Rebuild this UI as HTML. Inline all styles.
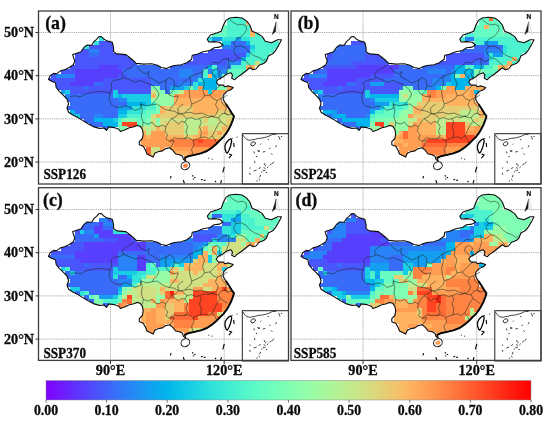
<!DOCTYPE html>
<html><head><meta charset="utf-8"><title>Figure</title>
<style>
html,body{margin:0;padding:0;background:#fff;}
svg{display:block}
text{font-family:"Liberation Serif","Times New Roman",serif;font-weight:bold;fill:#0a0a0a;stroke:#0a0a0a;stroke-width:.3px}
.ax{font-size:14.2px}
.pl{font-size:17.8px}
.cb{font-size:13.8px}
.n{font-family:"Liberation Sans",Arial,sans-serif;font-size:6.5px;font-weight:bold;stroke-width:.2px}
.grid{stroke:#8c8c8c;stroke-width:0.7;stroke-dasharray:1.3 0.9;fill:none}
.frame{fill:none;stroke:#3c3c3c;stroke-width:1.3}
.out{fill:none;stroke:#0c0c0c;stroke-width:1.1;stroke-linejoin:round}
.prov{fill:none;stroke:#16241c;stroke-width:0.55;stroke-linejoin:round;opacity:.95}
.isl{fill:none;stroke:#000;stroke-width:1.1}
</style></head><body>
<svg width="550" height="421" viewBox="0 0 550 421">
<defs>
<linearGradient id="rb" x1="0" x2="1" y1="0" y2="0"><stop offset="0.0000" stop-color="#8000ff"/><stop offset="0.0312" stop-color="#7019ff"/><stop offset="0.0625" stop-color="#6032fe"/><stop offset="0.0938" stop-color="#504afc"/><stop offset="0.1250" stop-color="#4062fa"/><stop offset="0.1562" stop-color="#3079f7"/><stop offset="0.1875" stop-color="#208ef4"/><stop offset="0.2188" stop-color="#10a2f0"/><stop offset="0.2500" stop-color="#00b5eb"/><stop offset="0.2812" stop-color="#10c6e6"/><stop offset="0.3125" stop-color="#20d5e1"/><stop offset="0.3438" stop-color="#30e1da"/><stop offset="0.3750" stop-color="#40ecd4"/><stop offset="0.4062" stop-color="#50f4cc"/><stop offset="0.4375" stop-color="#60fac5"/><stop offset="0.4688" stop-color="#70febc"/><stop offset="0.5000" stop-color="#80ffb4"/><stop offset="0.5312" stop-color="#90feab"/><stop offset="0.5625" stop-color="#a0faa1"/><stop offset="0.5938" stop-color="#b0f397"/><stop offset="0.6250" stop-color="#c0eb8d"/><stop offset="0.6562" stop-color="#d0e082"/><stop offset="0.6875" stop-color="#e0d377"/><stop offset="0.7188" stop-color="#f0c46c"/><stop offset="0.7500" stop-color="#ffb360"/><stop offset="0.7812" stop-color="#ffa055"/><stop offset="0.8125" stop-color="#ff8c49"/><stop offset="0.8438" stop-color="#ff763d"/><stop offset="0.8750" stop-color="#ff5f30"/><stop offset="0.9062" stop-color="#ff4724"/><stop offset="0.9375" stop-color="#ff2f18"/><stop offset="0.9688" stop-color="#ff160b"/><stop offset="1.0000" stop-color="#ff0000"/></linearGradient>
<clipPath id="cn"><polygon points="10.4,67.4 11.7,64.7 15.1,62.4 17.9,62.9 22.0,59.9 26.1,58.8 30.8,56.5 34.9,53.8 36.3,49.7 34.9,46.3 34.2,43.6 38.3,42.2 42.4,40.8 45.8,36.1 48.6,34.0 53.3,34.3 55.4,30.6 58.1,28.3 60.2,25.8 62.9,25.5 64.9,27.7 68.3,29.9 73.8,31.3 75.1,36.7 75.1,40.8 78.5,42.9 87.4,43.6 90.8,46.3 94.2,49.0 97.7,52.4 105.2,53.1 113.3,52.8 118.8,54.2 122.9,56.5 128.3,57.6 132.4,55.6 136.0,54.5 142.9,53.8 148.3,51.7 153.1,48.3 153.8,44.2 158.6,43.3 164.7,40.8 171.5,39.5 175.6,36.7 181.1,36.1 184.5,34.0 181.1,31.3 175.6,30.6 170.2,31.0 168.8,28.2 172.0,24.0 178.2,22.0 182.7,20.2 185.0,14.0 187.4,9.4 191.2,7.0 197.4,6.3 203.6,7.0 208.2,10.1 211.3,14.0 213.6,20.2 219.1,22.5 223.7,25.6 226.8,30.2 233.0,31.8 239.1,28.7 243.0,28.7 240.7,33.3 237.6,38.7 234.5,42.6 229.9,44.9 228.0,50.0 225.2,52.6 220.6,54.2 217.5,58.0 214.4,58.8 211.3,56.8 207.9,59.5 203.2,63.3 198.6,66.4 196.3,68.7 193.2,67.2 194.0,64.1 192.4,61.8 187.8,63.3 183.9,66.4 180.0,68.0 177.7,71.0 180.0,74.1 184.7,74.1 186.2,75.7 190.1,74.9 194.7,76.5 192.4,78.8 188.5,80.3 184.7,84.2 184.7,88.8 187.8,93.5 190.9,98.3 193.2,102.1 195.5,105.2 194.0,109.9 192.5,113.7 190.1,118.4 187.8,122.2 184.7,126.1 181.6,129.2 177.8,133.0 173.1,136.9 168.5,140.0 162.3,142.3 156.1,143.9 149.5,145.3 146.4,146.9 147.2,150.0 144.9,148.4 144.1,145.3 141.0,143.8 137.1,143.0 134.1,139.1 131.0,136.8 127.1,137.6 124.0,139.9 119.4,140.7 116.3,142.2 114.7,146.1 111.6,144.5 108.5,143.0 107.0,139.1 104.7,135.3 100.8,133.7 100.8,130.6 103.9,127.5 104.7,122.9 103.9,118.3 101.6,115.2 98.5,114.4 94.6,116.0 90.8,116.7 86.1,119.0 81.9,120.5 80.3,118.2 75.7,116.6 70.3,115.9 68.0,119.4 65.6,117.0 61.0,117.4 55.6,115.9 51.0,113.6 47.1,111.2 43.2,108.9 39.4,106.6 34.7,104.3 30.1,101.2 28.5,97.3 30.1,92.7 28.5,88.0 24.7,84.2 20.8,80.3 17.7,76.5 17.0,71.8 13.1,70.3 10.0,68.5"/><ellipse cx="146.9" cy="154.7" rx="2.6" ry="2.1" transform="rotate(-30 146.9 154.7)"/></clipPath>
<clipPath id="pc"><rect x="0" y="0" width="250" height="173"/></clipPath>
</defs>
<rect width="550" height="421" fill="#fff"/>
<g transform="translate(38.5,11)"><g clip-path="url(#pc)"><line class="grid" x1="72.0" x2="72.0" y1="0" y2="173"/><line class="grid" x1="185.7" x2="185.7" y1="0" y2="173"/><line class="grid" x1="0" x2="250" y1="151.1" y2="151.1"/><line class="grid" x1="0" x2="250" y1="107.9" y2="107.9"/><line class="grid" x1="0" x2="250" y1="64.7" y2="64.7"/><line class="grid" x1="0" x2="250" y1="21.5" y2="21.5"/><g clip-path="url(#cn)" shape-rendering="crispEdges"><rect x="188.06" y="5.54" width="23.99" height="4.37" fill="#4df3ce"/><rect x="188.06" y="9.61" width="19.25" height="4.37" fill="#4df3ce"/><rect x="207.01" y="9.61" width="5.04" height="4.37" fill="#ffb360"/><rect x="183.32" y="13.68" width="5.04" height="4.37" fill="#66fcc2"/><rect x="188.06" y="13.68" width="23.99" height="4.37" fill="#4df3ce"/><rect x="211.75" y="13.68" width="5.04" height="4.37" fill="#ffb360"/><rect x="183.32" y="17.75" width="5.04" height="4.37" fill="#66fcc2"/><rect x="188.06" y="17.75" width="23.99" height="4.37" fill="#4df3ce"/><rect x="211.75" y="17.75" width="5.04" height="4.37" fill="#ffb360"/><rect x="173.85" y="21.82" width="14.51" height="4.37" fill="#66fcc2"/><rect x="188.06" y="21.82" width="23.99" height="4.37" fill="#4df3ce"/><rect x="211.75" y="21.82" width="5.04" height="4.37" fill="#ffb360"/><rect x="216.49" y="21.82" width="5.04" height="4.37" fill="#4df3ce"/><rect x="60.15" y="25.90" width="5.04" height="4.37" fill="#32e3da"/><rect x="169.11" y="25.90" width="5.04" height="4.37" fill="#32e3da"/><rect x="173.85" y="25.90" width="9.78" height="4.37" fill="#149df1"/><rect x="183.32" y="25.90" width="14.51" height="4.37" fill="#32e3da"/><rect x="197.54" y="25.90" width="5.04" height="4.37" fill="#149df1"/><rect x="202.27" y="25.90" width="9.78" height="4.37" fill="#32e3da"/><rect x="211.75" y="25.90" width="14.51" height="4.37" fill="#4df3ce"/><rect x="55.41" y="29.97" width="5.04" height="4.37" fill="#32e3da"/><rect x="60.15" y="29.97" width="14.51" height="4.37" fill="#4856fb"/><rect x="183.32" y="29.97" width="9.78" height="4.37" fill="#18cde4"/><rect x="192.80" y="29.97" width="14.51" height="4.37" fill="#396bf9"/><rect x="207.01" y="29.97" width="5.04" height="4.37" fill="#00b5eb"/><rect x="211.75" y="29.97" width="28.72" height="4.37" fill="#4df3ce"/><rect x="45.94" y="34.04" width="5.04" height="4.37" fill="#32e3da"/><rect x="50.67" y="34.04" width="23.99" height="4.37" fill="#4856fb"/><rect x="183.32" y="34.04" width="9.78" height="4.37" fill="#2884f6"/><rect x="192.80" y="34.04" width="19.25" height="4.37" fill="#396bf9"/><rect x="211.75" y="34.04" width="5.04" height="4.37" fill="#18cde4"/><rect x="216.49" y="34.04" width="23.99" height="4.37" fill="#4df3ce"/><rect x="41.20" y="38.11" width="9.78" height="4.37" fill="#4856fb"/><rect x="50.67" y="38.11" width="9.78" height="4.37" fill="#2884f6"/><rect x="60.15" y="38.11" width="14.51" height="4.37" fill="#4856fb"/><rect x="169.11" y="38.11" width="23.99" height="4.37" fill="#4856fb"/><rect x="192.80" y="38.11" width="19.25" height="4.37" fill="#396bf9"/><rect x="211.75" y="38.11" width="5.04" height="4.37" fill="#32e3da"/><rect x="216.49" y="38.11" width="19.25" height="4.37" fill="#4df3ce"/><rect x="36.46" y="42.18" width="14.51" height="4.37" fill="#4856fb"/><rect x="50.67" y="42.18" width="9.78" height="4.37" fill="#396bf9"/><rect x="60.15" y="42.18" width="28.72" height="4.37" fill="#4856fb"/><rect x="88.57" y="42.18" width="5.04" height="4.37" fill="#99fca6"/><rect x="154.90" y="42.18" width="52.41" height="4.37" fill="#4856fb"/><rect x="207.01" y="42.18" width="5.04" height="4.37" fill="#18cde4"/><rect x="211.75" y="42.18" width="19.25" height="4.37" fill="#4df3ce"/><rect x="36.46" y="46.25" width="57.15" height="4.37" fill="#4856fb"/><rect x="93.31" y="46.25" width="5.04" height="4.37" fill="#99fca6"/><rect x="154.90" y="46.25" width="47.67" height="4.37" fill="#4856fb"/><rect x="202.27" y="46.25" width="5.04" height="4.37" fill="#00b5eb"/><rect x="207.01" y="46.25" width="23.99" height="4.37" fill="#4df3ce"/><rect x="36.46" y="50.32" width="61.89" height="4.37" fill="#4856fb"/><rect x="145.43" y="50.32" width="42.94" height="4.37" fill="#4856fb"/><rect x="188.06" y="50.32" width="14.51" height="4.37" fill="#2884f6"/><rect x="202.27" y="50.32" width="14.51" height="4.37" fill="#4df3ce"/><rect x="216.49" y="50.32" width="5.04" height="4.37" fill="#d0e082"/><rect x="221.22" y="50.32" width="5.04" height="4.37" fill="#4df3ce"/><rect x="31.72" y="54.39" width="28.72" height="4.37" fill="#4856fb"/><rect x="60.15" y="54.39" width="19.25" height="4.37" fill="#583efd"/><rect x="79.10" y="54.39" width="14.51" height="4.37" fill="#4856fb"/><rect x="93.31" y="54.39" width="28.72" height="4.37" fill="#396bf9"/><rect x="131.21" y="54.39" width="38.20" height="4.37" fill="#396bf9"/><rect x="169.11" y="54.39" width="5.04" height="4.37" fill="#00b5eb"/><rect x="173.85" y="54.39" width="5.04" height="4.37" fill="#4df3ce"/><rect x="178.59" y="54.39" width="14.51" height="4.37" fill="#396bf9"/><rect x="192.80" y="54.39" width="14.51" height="4.37" fill="#4df3ce"/><rect x="207.01" y="54.39" width="9.78" height="4.37" fill="#ffb360"/><rect x="22.25" y="58.46" width="14.51" height="4.37" fill="#4856fb"/><rect x="36.46" y="58.46" width="47.67" height="4.37" fill="#583efd"/><rect x="83.84" y="58.46" width="57.15" height="4.37" fill="#396bf9"/><rect x="140.69" y="58.46" width="14.51" height="4.37" fill="#2884f6"/><rect x="154.90" y="58.46" width="9.78" height="4.37" fill="#396bf9"/><rect x="164.38" y="58.46" width="5.04" height="4.37" fill="#4df3ce"/><rect x="169.11" y="58.46" width="5.04" height="4.37" fill="#2884f6"/><rect x="173.85" y="58.46" width="5.04" height="4.37" fill="#18cde4"/><rect x="178.59" y="58.46" width="9.78" height="4.37" fill="#2884f6"/><rect x="188.06" y="58.46" width="19.25" height="4.37" fill="#66fcc2"/><rect x="12.77" y="62.53" width="5.04" height="4.37" fill="#4856fb"/><rect x="17.51" y="62.53" width="19.25" height="4.37" fill="#2884f6"/><rect x="36.46" y="62.53" width="42.94" height="4.37" fill="#583efd"/><rect x="79.10" y="62.53" width="9.78" height="4.37" fill="#4856fb"/><rect x="88.57" y="62.53" width="52.41" height="4.37" fill="#396bf9"/><rect x="140.69" y="62.53" width="14.51" height="4.37" fill="#2884f6"/><rect x="154.90" y="62.53" width="5.04" height="4.37" fill="#396bf9"/><rect x="159.64" y="62.53" width="5.04" height="4.37" fill="#2884f6"/><rect x="164.38" y="62.53" width="5.04" height="4.37" fill="#4df3ce"/><rect x="169.11" y="62.53" width="5.04" height="4.37" fill="#ffb360"/><rect x="173.85" y="62.53" width="5.04" height="4.37" fill="#00b5eb"/><rect x="178.59" y="62.53" width="5.04" height="4.37" fill="#149df1"/><rect x="183.32" y="62.53" width="9.78" height="4.37" fill="#80ffb4"/><rect x="192.80" y="62.53" width="9.78" height="4.37" fill="#66fcc2"/><rect x="8.04" y="66.61" width="28.72" height="4.37" fill="#4856fb"/><rect x="36.46" y="66.61" width="28.72" height="4.37" fill="#583efd"/><rect x="64.89" y="66.61" width="47.67" height="4.37" fill="#4856fb"/><rect x="112.26" y="66.61" width="42.94" height="4.37" fill="#396bf9"/><rect x="154.90" y="66.61" width="5.04" height="4.37" fill="#2884f6"/><rect x="159.64" y="66.61" width="5.04" height="4.37" fill="#32e3da"/><rect x="164.38" y="66.61" width="14.51" height="4.37" fill="#00b5eb"/><rect x="17.51" y="70.68" width="14.51" height="4.37" fill="#4856fb"/><rect x="31.72" y="70.68" width="23.99" height="4.37" fill="#583efd"/><rect x="55.41" y="70.68" width="9.78" height="4.37" fill="#396bf9"/><rect x="64.89" y="70.68" width="47.67" height="4.37" fill="#4856fb"/><rect x="112.26" y="70.68" width="28.72" height="4.37" fill="#396bf9"/><rect x="140.69" y="70.68" width="14.51" height="4.37" fill="#2884f6"/><rect x="154.90" y="70.68" width="5.04" height="4.37" fill="#32e3da"/><rect x="159.64" y="70.68" width="19.25" height="4.37" fill="#00b5eb"/><rect x="17.51" y="74.75" width="28.72" height="4.37" fill="#4856fb"/><rect x="45.94" y="74.75" width="5.04" height="4.37" fill="#396bf9"/><rect x="50.67" y="74.75" width="61.89" height="4.37" fill="#4856fb"/><rect x="112.26" y="74.75" width="9.78" height="4.37" fill="#80ffb4"/><rect x="121.74" y="74.75" width="9.78" height="4.37" fill="#396bf9"/><rect x="131.21" y="74.75" width="14.51" height="4.37" fill="#149df1"/><rect x="145.43" y="74.75" width="5.04" height="4.37" fill="#18cde4"/><rect x="150.16" y="74.75" width="5.04" height="4.37" fill="#80ffb4"/><rect x="154.90" y="74.75" width="5.04" height="4.37" fill="#32e3da"/><rect x="159.64" y="74.75" width="5.04" height="4.37" fill="#ff9d53"/><rect x="164.38" y="74.75" width="14.51" height="4.37" fill="#00b5eb"/><rect x="178.59" y="74.75" width="9.78" height="4.37" fill="#80ffb4"/><rect x="188.06" y="74.75" width="5.04" height="4.37" fill="#ff9d53"/><rect x="22.25" y="78.82" width="5.04" height="4.37" fill="#149df1"/><rect x="26.99" y="78.82" width="5.04" height="4.37" fill="#18cde4"/><rect x="31.72" y="78.82" width="42.94" height="4.37" fill="#4856fb"/><rect x="74.36" y="78.82" width="5.04" height="4.37" fill="#18cde4"/><rect x="79.10" y="78.82" width="33.46" height="4.37" fill="#4856fb"/><rect x="112.26" y="78.82" width="5.04" height="4.37" fill="#d0e082"/><rect x="117.00" y="78.82" width="5.04" height="4.37" fill="#99fca6"/><rect x="121.74" y="78.82" width="5.04" height="4.37" fill="#80ffb4"/><rect x="126.47" y="78.82" width="5.04" height="4.37" fill="#396bf9"/><rect x="131.21" y="78.82" width="9.78" height="4.37" fill="#80ffb4"/><rect x="140.69" y="78.82" width="5.04" height="4.37" fill="#bced8f"/><rect x="145.43" y="78.82" width="23.99" height="4.37" fill="#ff9d53"/><rect x="169.11" y="78.82" width="5.04" height="4.37" fill="#18cde4"/><rect x="173.85" y="78.82" width="14.51" height="4.37" fill="#ff9d53"/><rect x="26.99" y="82.89" width="5.04" height="4.37" fill="#2884f6"/><rect x="31.72" y="82.89" width="42.94" height="4.37" fill="#396bf9"/><rect x="74.36" y="82.89" width="5.04" height="4.37" fill="#18cde4"/><rect x="79.10" y="82.89" width="5.04" height="4.37" fill="#00b5eb"/><rect x="83.84" y="82.89" width="28.72" height="4.37" fill="#18cde4"/><rect x="112.26" y="82.89" width="5.04" height="4.37" fill="#ffb360"/><rect x="117.00" y="82.89" width="19.25" height="4.37" fill="#99fca6"/><rect x="135.95" y="82.89" width="47.67" height="4.37" fill="#ff9d53"/><rect x="26.99" y="86.96" width="52.41" height="4.37" fill="#396bf9"/><rect x="79.10" y="86.96" width="9.78" height="4.37" fill="#2884f6"/><rect x="88.57" y="86.96" width="23.99" height="4.37" fill="#18cde4"/><rect x="112.26" y="86.96" width="23.99" height="4.37" fill="#99fca6"/><rect x="135.95" y="86.96" width="47.67" height="4.37" fill="#ffb360"/><rect x="31.72" y="91.03" width="57.15" height="4.37" fill="#396bf9"/><rect x="88.57" y="91.03" width="19.25" height="4.37" fill="#00b5eb"/><rect x="107.52" y="91.03" width="5.04" height="4.37" fill="#18cde4"/><rect x="112.26" y="91.03" width="5.04" height="4.37" fill="#4df3ce"/><rect x="117.00" y="91.03" width="19.25" height="4.37" fill="#99fca6"/><rect x="135.95" y="91.03" width="52.41" height="4.37" fill="#ffb360"/><rect x="26.99" y="95.10" width="52.41" height="4.37" fill="#396bf9"/><rect x="79.10" y="95.10" width="14.51" height="4.37" fill="#149df1"/><rect x="93.31" y="95.10" width="14.51" height="4.37" fill="#32e3da"/><rect x="107.52" y="95.10" width="9.78" height="4.37" fill="#4df3ce"/><rect x="117.00" y="95.10" width="5.04" height="4.37" fill="#80ffb4"/><rect x="121.74" y="95.10" width="5.04" height="4.37" fill="#ffb360"/><rect x="126.47" y="95.10" width="28.72" height="4.37" fill="#e6cd73"/><rect x="154.90" y="95.10" width="33.46" height="4.37" fill="#ffb360"/><rect x="31.72" y="99.17" width="5.04" height="4.37" fill="#00b5eb"/><rect x="36.46" y="99.17" width="42.94" height="4.37" fill="#396bf9"/><rect x="79.10" y="99.17" width="9.78" height="4.37" fill="#00b5eb"/><rect x="88.57" y="99.17" width="14.51" height="4.37" fill="#32e3da"/><rect x="102.79" y="99.17" width="5.04" height="4.37" fill="#4df3ce"/><rect x="107.52" y="99.17" width="9.78" height="4.37" fill="#66fcc2"/><rect x="117.00" y="99.17" width="5.04" height="4.37" fill="#80ffb4"/><rect x="121.74" y="99.17" width="5.04" height="4.37" fill="#ffb360"/><rect x="126.47" y="99.17" width="28.72" height="4.37" fill="#e6cd73"/><rect x="154.90" y="99.17" width="23.99" height="4.37" fill="#ffb360"/><rect x="178.59" y="99.17" width="14.51" height="4.37" fill="#e6cd73"/><rect x="36.46" y="103.24" width="5.04" height="4.37" fill="#18cde4"/><rect x="41.20" y="103.24" width="14.51" height="4.37" fill="#396bf9"/><rect x="55.41" y="103.24" width="9.78" height="4.37" fill="#2884f6"/><rect x="64.89" y="103.24" width="14.51" height="4.37" fill="#396bf9"/><rect x="79.10" y="103.24" width="9.78" height="4.37" fill="#18cde4"/><rect x="88.57" y="103.24" width="14.51" height="4.37" fill="#4df3ce"/><rect x="102.79" y="103.24" width="9.78" height="4.37" fill="#66fcc2"/><rect x="112.26" y="103.24" width="5.04" height="4.37" fill="#d0e082"/><rect x="117.00" y="103.24" width="5.04" height="4.37" fill="#ffb360"/><rect x="121.74" y="103.24" width="57.15" height="4.37" fill="#e6cd73"/><rect x="178.59" y="103.24" width="19.25" height="4.37" fill="#d0e082"/><rect x="45.94" y="107.32" width="9.78" height="4.37" fill="#396bf9"/><rect x="55.41" y="107.32" width="19.25" height="4.37" fill="#00b5eb"/><rect x="74.36" y="107.32" width="5.04" height="4.37" fill="#18cde4"/><rect x="79.10" y="107.32" width="5.04" height="4.37" fill="#4df3ce"/><rect x="83.84" y="107.32" width="14.51" height="4.37" fill="#80ffb4"/><rect x="98.05" y="107.32" width="9.78" height="4.37" fill="#66fcc2"/><rect x="107.52" y="107.32" width="5.04" height="4.37" fill="#80ffb4"/><rect x="112.26" y="107.32" width="5.04" height="4.37" fill="#d0e082"/><rect x="117.00" y="107.32" width="5.04" height="4.37" fill="#80ffb4"/><rect x="121.74" y="107.32" width="23.99" height="4.37" fill="#d0e082"/><rect x="145.43" y="107.32" width="19.25" height="4.37" fill="#bced8f"/><rect x="164.38" y="107.32" width="5.04" height="4.37" fill="#e6cd73"/><rect x="169.11" y="107.32" width="9.78" height="4.37" fill="#bced8f"/><rect x="178.59" y="107.32" width="9.78" height="4.37" fill="#d0e082"/><rect x="188.06" y="107.32" width="5.04" height="4.37" fill="#e6cd73"/><rect x="50.67" y="111.39" width="14.51" height="4.37" fill="#396bf9"/><rect x="64.89" y="111.39" width="14.51" height="4.37" fill="#00b5eb"/><rect x="79.10" y="111.39" width="5.04" height="4.37" fill="#66fcc2"/><rect x="83.84" y="111.39" width="14.51" height="4.37" fill="#ff4422"/><rect x="98.05" y="111.39" width="5.04" height="4.37" fill="#66fcc2"/><rect x="102.79" y="111.39" width="9.78" height="4.37" fill="#80ffb4"/><rect x="112.26" y="111.39" width="5.04" height="4.37" fill="#d0e082"/><rect x="117.00" y="111.39" width="5.04" height="4.37" fill="#99fca6"/><rect x="121.74" y="111.39" width="5.04" height="4.37" fill="#d0e082"/><rect x="126.47" y="111.39" width="19.25" height="4.37" fill="#e6cd73"/><rect x="145.43" y="111.39" width="19.25" height="4.37" fill="#bced8f"/><rect x="164.38" y="111.39" width="5.04" height="4.37" fill="#d0e082"/><rect x="169.11" y="111.39" width="9.78" height="4.37" fill="#bced8f"/><rect x="178.59" y="111.39" width="9.78" height="4.37" fill="#d0e082"/><rect x="188.06" y="111.39" width="5.04" height="4.37" fill="#e6cd73"/><rect x="64.89" y="115.46" width="5.04" height="4.37" fill="#396bf9"/><rect x="79.10" y="115.46" width="9.78" height="4.37" fill="#80ffb4"/><rect x="102.79" y="115.46" width="5.04" height="4.37" fill="#d0e082"/><rect x="107.52" y="115.46" width="5.04" height="4.37" fill="#bced8f"/><rect x="112.26" y="115.46" width="5.04" height="4.37" fill="#d0e082"/><rect x="117.00" y="115.46" width="5.04" height="4.37" fill="#ffb360"/><rect x="121.74" y="115.46" width="23.99" height="4.37" fill="#e6cd73"/><rect x="145.43" y="115.46" width="14.51" height="4.37" fill="#bced8f"/><rect x="159.64" y="115.46" width="5.04" height="4.37" fill="#e6cd73"/><rect x="164.38" y="115.46" width="5.04" height="4.37" fill="#ffb360"/><rect x="169.11" y="115.46" width="14.51" height="4.37" fill="#d0e082"/><rect x="183.32" y="115.46" width="5.04" height="4.37" fill="#ffb360"/><rect x="188.06" y="115.46" width="5.04" height="4.37" fill="#e6cd73"/><rect x="102.79" y="119.53" width="5.04" height="4.37" fill="#ffb360"/><rect x="107.52" y="119.53" width="5.04" height="4.37" fill="#bced8f"/><rect x="112.26" y="119.53" width="14.51" height="4.37" fill="#ff9d53"/><rect x="126.47" y="119.53" width="19.25" height="4.37" fill="#e6cd73"/><rect x="145.43" y="119.53" width="14.51" height="4.37" fill="#bced8f"/><rect x="159.64" y="119.53" width="5.04" height="4.37" fill="#ffb360"/><rect x="164.38" y="119.53" width="5.04" height="4.37" fill="#ff9d53"/><rect x="169.11" y="119.53" width="9.78" height="4.37" fill="#e6cd73"/><rect x="178.59" y="119.53" width="5.04" height="4.37" fill="#ff9d53"/><rect x="183.32" y="119.53" width="5.04" height="4.37" fill="#e6cd73"/><rect x="102.79" y="123.60" width="5.04" height="4.37" fill="#ff9d53"/><rect x="107.52" y="123.60" width="5.04" height="4.37" fill="#ffb360"/><rect x="112.26" y="123.60" width="14.51" height="4.37" fill="#ff9d53"/><rect x="126.47" y="123.60" width="19.25" height="4.37" fill="#ffb360"/><rect x="145.43" y="123.60" width="9.78" height="4.37" fill="#e6cd73"/><rect x="154.90" y="123.60" width="14.51" height="4.37" fill="#ffb360"/><rect x="169.11" y="123.60" width="14.51" height="4.37" fill="#e6cd73"/><rect x="102.79" y="127.67" width="28.72" height="4.37" fill="#ff9d53"/><rect x="131.21" y="127.67" width="23.99" height="4.37" fill="#ff8444"/><rect x="154.90" y="127.67" width="5.04" height="4.37" fill="#ff6b37"/><rect x="159.64" y="127.67" width="5.04" height="4.37" fill="#ff4422"/><rect x="164.38" y="127.67" width="14.51" height="4.37" fill="#ff6b37"/><rect x="178.59" y="127.67" width="5.04" height="4.37" fill="#ff8444"/><rect x="102.79" y="131.74" width="33.46" height="4.37" fill="#ff9d53"/><rect x="135.95" y="131.74" width="19.25" height="4.37" fill="#ff8444"/><rect x="154.90" y="131.74" width="23.99" height="4.37" fill="#ff6b37"/><rect x="107.52" y="135.81" width="5.04" height="4.37" fill="#ff6b37"/><rect x="112.26" y="135.81" width="9.78" height="4.37" fill="#d0e082"/><rect x="121.74" y="135.81" width="5.04" height="4.37" fill="#ff9d53"/><rect x="131.21" y="135.81" width="42.94" height="4.37" fill="#ff9d53"/><rect x="107.52" y="139.88" width="5.04" height="4.37" fill="#ff6b37"/><rect x="112.26" y="139.88" width="5.04" height="4.37" fill="#d0e082"/><rect x="135.95" y="139.88" width="14.51" height="4.37" fill="#ffb360"/><rect x="150.16" y="139.88" width="14.51" height="4.37" fill="#ff9d53"/><rect x="112.26" y="143.95" width="5.04" height="4.37" fill="#ff9d53"/><rect x="145.43" y="143.95" width="5.04" height="4.37" fill="#ffb360"/><rect x="135.95" y="148.03" width="28.72" height="4.37" fill="#ff8444"/><rect x="135.95" y="152.10" width="28.72" height="4.37" fill="#ff8444"/><rect x="135.95" y="156.17" width="28.72" height="4.37" fill="#ff8444"/><rect x="135.95" y="160.24" width="28.72" height="4.37" fill="#ff8444"/></g><g><polyline class="prov" points="31.5,85.7 36.0,84.8 42.4,85.7 47.0,83.0 54.2,81.2 61.5,80.3 67.9,81.2 71.5,82.1"/><polyline class="prov" points="71.5,82.1 73.3,76.6 72.4,72.1 75.1,69.4 81.5,68.5 85.1,66.6"/><polyline class="prov" points="85.1,66.6 83.3,63.0 87.0,59.4 92.4,56.6 96.1,53.5"/><polyline class="prov" points="71.5,82.1 70.6,87.5 72.4,93.0 76.0,95.7 81.5,96.6 87.0,94.8 92.4,96.6 96.0,99.4 102.0,97.5"/><polyline class="prov" points="85.1,66.6 90.6,68.5 97.0,71.2 102.4,69.4 107.9,72.1 113.3,73.9 117.9,78.5 120.6,83.0 118.8,87.5 115.1,91.2 113.3,93.9"/><polyline class="prov" points="113.3,93.9 107.9,94.8 102.4,93.0 102.0,97.5"/><polyline class="prov" points="113.3,93.9 118.8,93.0 122.4,95.7 127.0,98.5 130.6,99.4"/><polyline class="prov" points="98.8,55.7 102.4,60.3 107.9,63.0 110.6,60.3 109.7,65.7 115.1,68.5 120.6,72.1 125.1,70.3 127.9,68.5"/><polyline class="prov" points="127.9,68.5 131.5,66.6 135.1,69.4 136.0,74.8 134.2,80.3 130.6,83.9 127.9,80.3 127.0,73.9 127.9,68.5"/><polyline class="prov" points="130.6,83.9 135.1,85.7 139.7,84.8 137.9,90.3 134.2,94.8 130.6,99.4"/><polyline class="prov" points="136.0,74.8 140.6,75.7 144.2,72.1 148.8,68.5 151.5,65.7"/><polyline class="prov" points="151.5,65.7 156.0,63.9 161.5,62.1 164.2,60.3 167.9,56.6"/><polyline class="prov" points="151.5,65.7 152.4,73.0 150.6,80.3 151.5,87.5 153.3,93.0"/><polyline class="prov" points="164.2,60.3 163.3,66.6 166.0,72.1 164.2,78.5 166.0,84.8 163.3,88.5 157.9,91.2 153.3,93.0"/><polyline class="prov" points="153.3,93.0 152.4,96.6 148.8,99.4 146.0,102.1"/><polyline class="prov" points="130.6,99.4 136.0,100.3 140.6,103.0 146.0,102.1"/><polyline class="prov" points="167.9,56.6 171.5,54.8 175.1,51.2 180.6,52.1 184.2,48.5 189.7,47.5 193.5,51.0 197.5,49.0 199.7,46.5"/><polyline class="prov" points="189.7,47.5 190.5,55.0 188.0,62.5"/><polyline class="prov" points="174.5,59.0 178.5,57.5 181.5,60.0 180.5,64.0 182.5,68.0 179.0,69.0 176.5,65.0 173.5,63.0 174.5,59.0"/><polyline class="prov" points="166.0,84.8 171.5,83.9 175.1,80.3 178.8,76.6 182.4,73.9"/><polyline class="prov" points="171.5,83.9 174.2,87.5 178.8,89.4 182.4,87.5 186.0,85.7 189.0,84.2"/><polyline class="prov" points="178.8,89.4 177.0,93.9 179.7,98.5 177.9,103.0 175.1,105.7"/><polyline class="prov" points="146.0,102.1 151.5,101.2 157.0,103.0 163.3,102.1 169.7,104.8 175.1,105.7"/><polyline class="prov" points="182.4,87.5 184.2,93.0 187.9,96.6 186.0,102.1 189.2,104.0"/><polyline class="prov" points="191.2,8.6 195.1,11.7 199.7,14.0 203.6,13.2 207.5,14.8 208.2,18.6 205.9,22.5 202.8,25.6 198.2,27.9 195.1,31.8"/><polyline class="prov" points="195.1,31.8 197.4,35.6 195.1,39.5 196.6,43.4 199.7,46.5"/><polyline class="prov" points="197.4,35.6 202.8,34.9 207.5,37.2 211.3,41.8 216.0,44.9 220.6,46.5 225.2,49.5 227.8,48.0"/><polyline class="prov" points="199.7,46.5 204.4,48.0 208.2,51.1 211.3,54.2 214.4,57.5"/><polyline class="prov" points="102.0,91.3 103.8,98.5 102.9,105.8 104.7,111.3 104.1,116.5"/><polyline class="prov" points="104.7,111.3 109.2,113.1 113.8,111.3 116.5,114.9 120.1,115.8 123.8,114.0 127.4,115.8"/><polyline class="prov" points="127.4,115.8 130.1,111.3 132.9,107.6 137.4,105.8 140.1,102.2 139.2,97.6 142.0,94.9 144.7,93.1"/><polyline class="prov" points="140.1,102.2 144.7,104.0 148.3,107.6 146.5,111.3 142.9,110.4 140.1,113.1 136.5,110.0 132.9,107.6"/><polyline class="prov" points="127.4,115.8 126.5,120.4 129.2,124.0 127.4,127.6 131.0,130.4 135.6,129.5 133.7,134.0 131.5,137.0"/><polyline class="prov" points="146.5,111.3 149.2,115.8 147.4,120.4 149.2,124.9 145.6,127.6"/><polyline class="prov" points="131.0,130.4 135.6,126.7 140.1,127.6 145.6,127.6"/><polyline class="prov" points="145.6,127.6 150.1,126.7 154.7,129.5 159.2,127.6 162.0,126.7"/><polyline class="prov" points="154.7,129.5 155.6,134.0 152.9,138.5 154.7,143.5"/><polyline class="prov" points="162.0,126.7 162.9,121.3 161.0,115.8 162.9,111.3 161.0,107.6"/><polyline class="prov" points="148.3,107.6 152.9,106.7 157.4,108.5 161.0,107.6"/><polyline class="prov" points="161.0,107.6 165.6,105.8 170.1,106.7 173.8,104.9 175.1,105.7"/><polyline class="prov" points="162.0,126.7 166.5,125.8 170.1,127.6 173.8,124.9"/><polyline class="prov" points="173.8,124.9 176.5,119.5 179.2,114.0 182.0,110.4 180.1,106.7"/><polyline class="prov" points="173.8,124.9 176.5,128.5 178.3,132.5"/><polyline class="prov" points="182.0,110.4 185.6,113.1 189.0,115.5"/><polyline class="prov" points="173.8,104.9 177.4,106.7 180.1,106.7"/><polyline class="prov" points="180.1,106.7 182.9,103.1 186.5,102.2 189.2,104.0 193.0,103.0"/><polygon class="out" points="10.4,67.4 11.7,64.7 15.1,62.4 17.9,62.9 22.0,59.9 26.1,58.8 30.8,56.5 34.9,53.8 36.3,49.7 34.9,46.3 34.2,43.6 38.3,42.2 42.4,40.8 45.8,36.1 48.6,34.0 53.3,34.3 55.4,30.6 58.1,28.3 60.2,25.8 62.9,25.5 64.9,27.7 68.3,29.9 73.8,31.3 75.1,36.7 75.1,40.8 78.5,42.9 87.4,43.6 90.8,46.3 94.2,49.0 97.7,52.4 105.2,53.1 113.3,52.8 118.8,54.2 122.9,56.5 128.3,57.6 132.4,55.6 136.0,54.5 142.9,53.8 148.3,51.7 153.1,48.3 153.8,44.2 158.6,43.3 164.7,40.8 171.5,39.5 175.6,36.7 181.1,36.1 184.5,34.0 181.1,31.3 175.6,30.6 170.2,31.0 168.8,28.2 172.0,24.0 178.2,22.0 182.7,20.2 185.0,14.0 187.4,9.4 191.2,7.0 197.4,6.3 203.6,7.0 208.2,10.1 211.3,14.0 213.6,20.2 219.1,22.5 223.7,25.6 226.8,30.2 233.0,31.8 239.1,28.7 243.0,28.7 240.7,33.3 237.6,38.7 234.5,42.6 229.9,44.9 228.0,50.0 225.2,52.6 220.6,54.2 217.5,58.0 214.4,58.8 211.3,56.8 207.9,59.5 203.2,63.3 198.6,66.4 196.3,68.7 193.2,67.2 194.0,64.1 192.4,61.8 187.8,63.3 183.9,66.4 180.0,68.0 177.7,71.0 180.0,74.1 184.7,74.1 186.2,75.7 190.1,74.9 194.7,76.5 192.4,78.8 188.5,80.3 184.7,84.2 184.7,88.8 187.8,93.5 190.9,98.3 193.2,102.1 195.5,105.2 194.0,109.9 192.5,113.7 190.1,118.4 187.8,122.2 184.7,126.1 181.6,129.2 177.8,133.0 173.1,136.9 168.5,140.0 162.3,142.3 156.1,143.9 149.5,145.3 146.4,146.9 147.2,150.0 144.9,148.4 144.1,145.3 141.0,143.8 137.1,143.0 134.1,139.1 131.0,136.8 127.1,137.6 124.0,139.9 119.4,140.7 116.3,142.2 114.7,146.1 111.6,144.5 108.5,143.0 107.0,139.1 104.7,135.3 100.8,133.7 100.8,130.6 103.9,127.5 104.7,122.9 103.9,118.3 101.6,115.2 98.5,114.4 94.6,116.0 90.8,116.7 86.1,119.0 81.9,120.5 80.3,118.2 75.7,116.6 70.3,115.9 68.0,119.4 65.6,117.0 61.0,117.4 55.6,115.9 51.0,113.6 47.1,111.2 43.2,108.9 39.4,106.6 34.7,104.3 30.1,101.2 28.5,97.3 30.1,92.7 28.5,88.0 24.7,84.2 20.8,80.3 17.7,76.5 17.0,71.8 13.1,70.3 10.0,68.5"/><ellipse class="out" style="stroke-width:1" cx="146.9" cy="154.7" rx="4.5" ry="3.8" transform="rotate(-30 146.9 154.7)"/><polygon points="192.5,127.9 193.2,130.0 192.1,135.0 190.4,139.5 188.8,142.2 187.7,141.3 186.5,137.8 186.5,134.5 187.9,131.5 190.5,128.8" fill="none" stroke="#000" stroke-width="1.25" stroke-linejoin="round"/><polyline points="187.8,93.5 190.9,98.3 193.2,102.1 195.5,105.2 194.0,109.9 192.5,113.7 190.1,118.4 187.8,122.2 184.7,126.1 181.6,129.2 177.8,133.0 173.1,136.9 168.5,140.0 162.3,142.3 156.1,143.9 149.5,145.3 146.4,146.9" fill="none" stroke="#0a0a0a" stroke-width="1.9" stroke-linejoin="round" stroke-linecap="round"/><polyline class="isl" points="195.2,131.9 195.6,136.0"/><polyline class="isl" points="190.6,142.9 193.1,144.0 190.4,147.1"/><polyline class="isl" points="198.3,125.7 198.8,126.4"/><polyline class="isl" points="193.5,127.0 193.9,127.6"/><polyline class="isl" points="170.1,146.8 170.7,147.4"/><polyline class="isl" points="173.3,147.8 174.0,148.4"/><polyline class="isl" points="185.8,155.8 184.3,161.4"/><polyline class="isl" points="183.0,169.1 182.1,172.5"/><polyline class="isl" points="153.7,164.5 154.9,165.3"/><polyline class="isl" points="155.7,166.8 157.0,166.2"/><polyline class="isl" points="154.5,167.6 155.1,168.4"/><polyline class="isl" points="162.5,169.0 164.1,168.2"/><polyline class="isl" points="165.1,169.6 167.0,169.0"/><polyline class="isl" points="144.8,169.1 145.9,172.5"/><polyline class="isl" points="176.5,170.0 177.5,171.0"/><polyline class="isl" points="132.5,165.0 132.0,167.5"/></g></g><rect x="203.8" y="122.7" width="46.2" height="50.3" fill="#fff" stroke="#222" stroke-width="1"/><polyline points="204.3,123.8 206.0,126.5 207.7,128.0 209.8,129.0 211.8,129.3 214.3,128.6 216.7,128.4 218.8,127.6 220.8,127.3 223.3,127.1 225.6,126.6 228.1,126.0 230.5,125.2 232.7,124.0 234.6,123.3 238.1,122.9" fill="none" stroke="#151515" stroke-width="0.8"/><polyline points="239.9,125.0 240.9,126.4 241.4,128.6" fill="none" stroke="#151515" stroke-width="0.8"/><polyline points="238.1,134.2 237.1,136.2" fill="none" stroke="#151515" stroke-width="0.8"/><polyline points="235.3,150.7 233.9,152.8" fill="none" stroke="#151515" stroke-width="0.8"/><polyline points="215.3,140.4 216.0,142.4" fill="none" stroke="#151515" stroke-width="0.8"/><polyline points="216.0,150.0 216.4,152.1" fill="none" stroke="#151515" stroke-width="0.8"/><polyline points="211.2,161.8 211.8,163.8" fill="none" stroke="#151515" stroke-width="0.8"/><polyline points="220.1,168.0 221.5,169.3" fill="none" stroke="#151515" stroke-width="0.8"/><polyline points="222.2,163.8 221.1,166.4" fill="none" stroke="#151515" stroke-width="0.8"/><polyline points="218.8,139.4 221.3,140.6" fill="none" stroke="#151515" stroke-width="0.8"/><polyline points="219.5,141.0 221.0,139.2" fill="none" stroke="#151515" stroke-width="0.8"/><polyline points="224.3,141.0 226.8,140.5" fill="none" stroke="#151515" stroke-width="0.8"/><polyline points="232.5,142.4 233.9,143.8" fill="none" stroke="#151515" stroke-width="0.8"/><polyline points="221.9,133.6 222.7,132.6" fill="none" stroke="#151515" stroke-width="0.8"/><polyline points="215.3,160.1 218.1,159.0" fill="none" stroke="#151515" stroke-width="0.8"/><polyline points="220.1,157.6 222.2,156.5" fill="none" stroke="#151515" stroke-width="0.8"/><polyline points="224.3,159.0 225.6,159.7 227.0,159.0" fill="none" stroke="#151515" stroke-width="0.8"/><polyline points="228.4,156.9 229.8,155.6" fill="none" stroke="#151515" stroke-width="0.8"/><polyline points="231.2,154.2 233.2,152.8" fill="none" stroke="#151515" stroke-width="0.8"/><polyline points="225.6,152.1 226.3,154.2" fill="none" stroke="#151515" stroke-width="0.8"/><polyline points="223.6,160.4 223.0,161.6" fill="none" stroke="#151515" stroke-width="0.8"/><polyline points="225.1,156.6 226.9,157.4" fill="none" stroke="#151515" stroke-width="0.8"/><polyline points="226.5,155.2 227.7,154.2" fill="none" stroke="#151515" stroke-width="0.8"/><ellipse cx="214.6" cy="132.8" rx="2.5" ry="1.8" fill="#fff" stroke="#111" stroke-width="0.8" transform="rotate(-30 214.6 132.8)"/><rect x="229.2" y="128.2" width="1.2" height="0.9" fill="#222"/><rect x="235.5" y="123.1" width="1.2" height="0.9" fill="#222"/><rect x="242.4" y="125.0" width="1.2" height="0.9" fill="#222"/><rect x="230.7" y="136.8" width="1.2" height="0.9" fill="#222"/><rect x="217.4" y="145.1" width="1.2" height="0.9" fill="#222"/><rect x="210.9" y="156.6" width="1.2" height="0.9" fill="#222"/><rect x="227.4" y="161.1" width="1.2" height="0.9" fill="#222"/><rect x="217.9" y="169.6" width="1.2" height="0.9" fill="#222"/><text class="n" x="237.9" y="7.6" text-anchor="middle">N</text><polygon points="237.7,10.9 233.9,23.4 237.4,20.1" fill="#111" stroke="#111" stroke-width="0.5"/><polygon points="237.7,10.9 241.2,22.9 237.4,20.1" fill="#fff" stroke="#999" stroke-width="0.4"/><rect class="frame" x="0" y="0" width="250" height="173"/><line x1="-3" x2="0" y1="151.1" y2="151.1" stroke="#333" stroke-width="1"/><text class="ax" x="-4.4" y="155.8" text-anchor="end">20°N</text><line x1="-3" x2="0" y1="107.9" y2="107.9" stroke="#333" stroke-width="1"/><text class="ax" x="-4.4" y="112.6" text-anchor="end">30°N</text><line x1="-3" x2="0" y1="64.7" y2="64.7" stroke="#333" stroke-width="1"/><text class="ax" x="-4.4" y="69.4" text-anchor="end">40°N</text><line x1="-3" x2="0" y1="21.5" y2="21.5" stroke="#333" stroke-width="1"/><text class="ax" x="-4.4" y="26.2" text-anchor="end">50°N</text><text class="pl" x="6.7" y="18.3">(a)</text><text class="ax" x="4.9" y="168.3" textLength="42.6" lengthAdjust="spacingAndGlyphs">SSP126</text></g>
<g transform="translate(291,11)"><g clip-path="url(#pc)"><line class="grid" x1="72.0" x2="72.0" y1="0" y2="173"/><line class="grid" x1="185.7" x2="185.7" y1="0" y2="173"/><line class="grid" x1="0" x2="250" y1="151.1" y2="151.1"/><line class="grid" x1="0" x2="250" y1="107.9" y2="107.9"/><line class="grid" x1="0" x2="250" y1="64.7" y2="64.7"/><line class="grid" x1="0" x2="250" y1="21.5" y2="21.5"/><g clip-path="url(#cn)" shape-rendering="crispEdges"><rect x="188.06" y="5.54" width="9.78" height="4.37" fill="#66fcc2"/><rect x="197.54" y="5.54" width="5.04" height="4.37" fill="#ff6b37"/><rect x="202.27" y="5.54" width="9.78" height="4.37" fill="#66fcc2"/><rect x="188.06" y="9.61" width="23.99" height="4.37" fill="#66fcc2"/><rect x="183.32" y="13.68" width="9.78" height="4.37" fill="#66fcc2"/><rect x="192.80" y="13.68" width="5.04" height="4.37" fill="#ffb360"/><rect x="197.54" y="13.68" width="14.51" height="4.37" fill="#66fcc2"/><rect x="183.32" y="17.75" width="28.72" height="4.37" fill="#66fcc2"/><rect x="173.85" y="21.82" width="9.78" height="4.37" fill="#4df3ce"/><rect x="183.32" y="21.82" width="38.20" height="4.37" fill="#66fcc2"/><rect x="169.11" y="25.90" width="5.04" height="4.37" fill="#4df3ce"/><rect x="173.85" y="25.90" width="9.78" height="4.37" fill="#2884f6"/><rect x="183.32" y="25.90" width="42.94" height="4.37" fill="#4df3ce"/><rect x="60.15" y="29.97" width="14.51" height="4.37" fill="#4856fb"/><rect x="183.32" y="29.97" width="9.78" height="4.37" fill="#4df3ce"/><rect x="192.80" y="29.97" width="14.51" height="4.37" fill="#149df1"/><rect x="207.01" y="29.97" width="33.46" height="4.37" fill="#4df3ce"/><rect x="45.94" y="34.04" width="28.72" height="4.37" fill="#396bf9"/><rect x="183.32" y="34.04" width="28.72" height="4.37" fill="#396bf9"/><rect x="211.75" y="34.04" width="5.04" height="4.37" fill="#32e3da"/><rect x="216.49" y="34.04" width="23.99" height="4.37" fill="#4df3ce"/><rect x="41.20" y="38.11" width="33.46" height="4.37" fill="#396bf9"/><rect x="169.11" y="38.11" width="23.99" height="4.37" fill="#396bf9"/><rect x="192.80" y="38.11" width="19.25" height="4.37" fill="#2884f6"/><rect x="211.75" y="38.11" width="5.04" height="4.37" fill="#32e3da"/><rect x="216.49" y="38.11" width="19.25" height="4.37" fill="#4df3ce"/><rect x="36.46" y="42.18" width="5.04" height="4.37" fill="#4856fb"/><rect x="41.20" y="42.18" width="33.46" height="4.37" fill="#396bf9"/><rect x="74.36" y="42.18" width="14.51" height="4.37" fill="#4856fb"/><rect x="154.90" y="42.18" width="38.20" height="4.37" fill="#4856fb"/><rect x="192.80" y="42.18" width="5.04" height="4.37" fill="#2884f6"/><rect x="197.54" y="42.18" width="5.04" height="4.37" fill="#32e3da"/><rect x="202.27" y="42.18" width="9.78" height="4.37" fill="#149df1"/><rect x="211.75" y="42.18" width="19.25" height="4.37" fill="#4df3ce"/><rect x="36.46" y="46.25" width="5.04" height="4.37" fill="#4856fb"/><rect x="41.20" y="46.25" width="33.46" height="4.37" fill="#396bf9"/><rect x="74.36" y="46.25" width="19.25" height="4.37" fill="#4856fb"/><rect x="154.90" y="46.25" width="38.20" height="4.37" fill="#4856fb"/><rect x="192.80" y="46.25" width="5.04" height="4.37" fill="#396bf9"/><rect x="197.54" y="46.25" width="5.04" height="4.37" fill="#32e3da"/><rect x="202.27" y="46.25" width="19.25" height="4.37" fill="#4df3ce"/><rect x="221.22" y="46.25" width="5.04" height="4.37" fill="#ffb360"/><rect x="225.96" y="46.25" width="5.04" height="4.37" fill="#4df3ce"/><rect x="36.46" y="50.32" width="23.99" height="4.37" fill="#396bf9"/><rect x="60.15" y="50.32" width="38.20" height="4.37" fill="#4856fb"/><rect x="145.43" y="50.32" width="38.20" height="4.37" fill="#4856fb"/><rect x="183.32" y="50.32" width="14.51" height="4.37" fill="#396bf9"/><rect x="197.54" y="50.32" width="19.25" height="4.37" fill="#4df3ce"/><rect x="216.49" y="50.32" width="5.04" height="4.37" fill="#ffb360"/><rect x="221.22" y="50.32" width="5.04" height="4.37" fill="#4df3ce"/><rect x="31.72" y="54.39" width="33.46" height="4.37" fill="#4856fb"/><rect x="64.89" y="54.39" width="42.94" height="4.37" fill="#583efd"/><rect x="107.52" y="54.39" width="14.51" height="4.37" fill="#396bf9"/><rect x="131.21" y="54.39" width="33.46" height="4.37" fill="#396bf9"/><rect x="164.38" y="54.39" width="9.78" height="4.37" fill="#00b5eb"/><rect x="173.85" y="54.39" width="9.78" height="4.37" fill="#4df3ce"/><rect x="183.32" y="54.39" width="9.78" height="4.37" fill="#00b5eb"/><rect x="192.80" y="54.39" width="9.78" height="4.37" fill="#4df3ce"/><rect x="202.27" y="54.39" width="5.04" height="4.37" fill="#80ffb4"/><rect x="207.01" y="54.39" width="9.78" height="4.37" fill="#ffb360"/><rect x="22.25" y="58.46" width="5.04" height="4.37" fill="#4856fb"/><rect x="26.99" y="58.46" width="9.78" height="4.37" fill="#396bf9"/><rect x="36.46" y="58.46" width="66.62" height="4.37" fill="#583efd"/><rect x="102.79" y="58.46" width="33.46" height="4.37" fill="#396bf9"/><rect x="135.95" y="58.46" width="19.25" height="4.37" fill="#2884f6"/><rect x="154.90" y="58.46" width="5.04" height="4.37" fill="#396bf9"/><rect x="159.64" y="58.46" width="5.04" height="4.37" fill="#2884f6"/><rect x="164.38" y="58.46" width="19.25" height="4.37" fill="#00b5eb"/><rect x="183.32" y="58.46" width="9.78" height="4.37" fill="#80ffb4"/><rect x="192.80" y="58.46" width="14.51" height="4.37" fill="#66fcc2"/><rect x="12.77" y="62.53" width="5.04" height="4.37" fill="#4856fb"/><rect x="17.51" y="62.53" width="19.25" height="4.37" fill="#2884f6"/><rect x="36.46" y="62.53" width="42.94" height="4.37" fill="#583efd"/><rect x="79.10" y="62.53" width="23.99" height="4.37" fill="#4856fb"/><rect x="102.79" y="62.53" width="52.41" height="4.37" fill="#396bf9"/><rect x="154.90" y="62.53" width="5.04" height="4.37" fill="#2884f6"/><rect x="159.64" y="62.53" width="5.04" height="4.37" fill="#00b5eb"/><rect x="164.38" y="62.53" width="5.04" height="4.37" fill="#80ffb4"/><rect x="169.11" y="62.53" width="5.04" height="4.37" fill="#ffb360"/><rect x="173.85" y="62.53" width="9.78" height="4.37" fill="#00b5eb"/><rect x="183.32" y="62.53" width="5.04" height="4.37" fill="#80ffb4"/><rect x="192.80" y="62.53" width="9.78" height="4.37" fill="#4df3ce"/><rect x="8.04" y="66.61" width="28.72" height="4.37" fill="#4856fb"/><rect x="36.46" y="66.61" width="28.72" height="4.37" fill="#583efd"/><rect x="64.89" y="66.61" width="28.72" height="4.37" fill="#4856fb"/><rect x="93.31" y="66.61" width="47.67" height="4.37" fill="#396bf9"/><rect x="140.69" y="66.61" width="19.25" height="4.37" fill="#2884f6"/><rect x="159.64" y="66.61" width="19.25" height="4.37" fill="#00b5eb"/><rect x="17.51" y="70.68" width="14.51" height="4.37" fill="#4856fb"/><rect x="31.72" y="70.68" width="23.99" height="4.37" fill="#583efd"/><rect x="55.41" y="70.68" width="9.78" height="4.37" fill="#396bf9"/><rect x="64.89" y="70.68" width="14.51" height="4.37" fill="#4856fb"/><rect x="79.10" y="70.68" width="14.51" height="4.37" fill="#149df1"/><rect x="93.31" y="70.68" width="19.25" height="4.37" fill="#4856fb"/><rect x="112.26" y="70.68" width="28.72" height="4.37" fill="#396bf9"/><rect x="140.69" y="70.68" width="14.51" height="4.37" fill="#2884f6"/><rect x="154.90" y="70.68" width="5.04" height="4.37" fill="#18cde4"/><rect x="159.64" y="70.68" width="19.25" height="4.37" fill="#00b5eb"/><rect x="17.51" y="74.75" width="28.72" height="4.37" fill="#4856fb"/><rect x="45.94" y="74.75" width="5.04" height="4.37" fill="#396bf9"/><rect x="50.67" y="74.75" width="57.15" height="4.37" fill="#4856fb"/><rect x="107.52" y="74.75" width="5.04" height="4.37" fill="#396bf9"/><rect x="112.26" y="74.75" width="9.78" height="4.37" fill="#80ffb4"/><rect x="121.74" y="74.75" width="14.51" height="4.37" fill="#396bf9"/><rect x="135.95" y="74.75" width="9.78" height="4.37" fill="#2884f6"/><rect x="145.43" y="74.75" width="5.04" height="4.37" fill="#00b5eb"/><rect x="150.16" y="74.75" width="5.04" height="4.37" fill="#80ffb4"/><rect x="154.90" y="74.75" width="9.78" height="4.37" fill="#ff9d53"/><rect x="164.38" y="74.75" width="9.78" height="4.37" fill="#00b5eb"/><rect x="173.85" y="74.75" width="19.25" height="4.37" fill="#ffb360"/><rect x="22.25" y="78.82" width="5.04" height="4.37" fill="#149df1"/><rect x="26.99" y="78.82" width="5.04" height="4.37" fill="#18cde4"/><rect x="31.72" y="78.82" width="42.94" height="4.37" fill="#4856fb"/><rect x="74.36" y="78.82" width="5.04" height="4.37" fill="#18cde4"/><rect x="79.10" y="78.82" width="28.72" height="4.37" fill="#4856fb"/><rect x="107.52" y="78.82" width="14.51" height="4.37" fill="#99fca6"/><rect x="121.74" y="78.82" width="9.78" height="4.37" fill="#80ffb4"/><rect x="131.21" y="78.82" width="5.04" height="4.37" fill="#66fcc2"/><rect x="135.95" y="78.82" width="9.78" height="4.37" fill="#ff8444"/><rect x="145.43" y="78.82" width="19.25" height="4.37" fill="#ff9d53"/><rect x="164.38" y="78.82" width="14.51" height="4.37" fill="#ffb360"/><rect x="178.59" y="78.82" width="5.04" height="4.37" fill="#ff9d53"/><rect x="183.32" y="78.82" width="5.04" height="4.37" fill="#00b5eb"/><rect x="26.99" y="82.89" width="5.04" height="4.37" fill="#2884f6"/><rect x="31.72" y="82.89" width="42.94" height="4.37" fill="#396bf9"/><rect x="74.36" y="82.89" width="5.04" height="4.37" fill="#18cde4"/><rect x="79.10" y="82.89" width="28.72" height="4.37" fill="#00b5eb"/><rect x="107.52" y="82.89" width="5.04" height="4.37" fill="#99fca6"/><rect x="112.26" y="82.89" width="5.04" height="4.37" fill="#d0e082"/><rect x="117.00" y="82.89" width="14.51" height="4.37" fill="#99fca6"/><rect x="131.21" y="82.89" width="5.04" height="4.37" fill="#ffb360"/><rect x="135.95" y="82.89" width="9.78" height="4.37" fill="#ff8444"/><rect x="145.43" y="82.89" width="9.78" height="4.37" fill="#ff9d53"/><rect x="154.90" y="82.89" width="23.99" height="4.37" fill="#ffb360"/><rect x="178.59" y="82.89" width="5.04" height="4.37" fill="#ff9d53"/><rect x="26.99" y="86.96" width="52.41" height="4.37" fill="#396bf9"/><rect x="79.10" y="86.96" width="5.04" height="4.37" fill="#2884f6"/><rect x="83.84" y="86.96" width="23.99" height="4.37" fill="#18cde4"/><rect x="107.52" y="86.96" width="23.99" height="4.37" fill="#99fca6"/><rect x="131.21" y="86.96" width="52.41" height="4.37" fill="#ffb360"/><rect x="31.72" y="91.03" width="52.41" height="4.37" fill="#396bf9"/><rect x="83.84" y="91.03" width="14.51" height="4.37" fill="#149df1"/><rect x="98.05" y="91.03" width="19.25" height="4.37" fill="#32e3da"/><rect x="117.00" y="91.03" width="9.78" height="4.37" fill="#99fca6"/><rect x="126.47" y="91.03" width="28.72" height="4.37" fill="#e6cd73"/><rect x="154.90" y="91.03" width="33.46" height="4.37" fill="#ffb360"/><rect x="26.99" y="95.10" width="52.41" height="4.37" fill="#396bf9"/><rect x="79.10" y="95.10" width="9.78" height="4.37" fill="#2884f6"/><rect x="88.57" y="95.10" width="5.04" height="4.37" fill="#18cde4"/><rect x="93.31" y="95.10" width="19.25" height="4.37" fill="#4df3ce"/><rect x="112.26" y="95.10" width="5.04" height="4.37" fill="#66fcc2"/><rect x="117.00" y="95.10" width="5.04" height="4.37" fill="#99fca6"/><rect x="121.74" y="95.10" width="9.78" height="4.37" fill="#ffb360"/><rect x="131.21" y="95.10" width="57.15" height="4.37" fill="#e6cd73"/><rect x="31.72" y="99.17" width="9.78" height="4.37" fill="#00b5eb"/><rect x="41.20" y="99.17" width="5.04" height="4.37" fill="#149df1"/><rect x="45.94" y="99.17" width="33.46" height="4.37" fill="#396bf9"/><rect x="79.10" y="99.17" width="5.04" height="4.37" fill="#00b5eb"/><rect x="83.84" y="99.17" width="9.78" height="4.37" fill="#4df3ce"/><rect x="93.31" y="99.17" width="14.51" height="4.37" fill="#66fcc2"/><rect x="107.52" y="99.17" width="5.04" height="4.37" fill="#80ffb4"/><rect x="112.26" y="99.17" width="9.78" height="4.37" fill="#99fca6"/><rect x="121.74" y="99.17" width="9.78" height="4.37" fill="#ffb360"/><rect x="131.21" y="99.17" width="38.20" height="4.37" fill="#e6cd73"/><rect x="169.11" y="99.17" width="14.51" height="4.37" fill="#bced8f"/><rect x="183.32" y="99.17" width="5.04" height="4.37" fill="#d0e082"/><rect x="188.06" y="99.17" width="5.04" height="4.37" fill="#ffb360"/><rect x="36.46" y="103.24" width="5.04" height="4.37" fill="#396bf9"/><rect x="41.20" y="103.24" width="5.04" height="4.37" fill="#149df1"/><rect x="45.94" y="103.24" width="9.78" height="4.37" fill="#00b5eb"/><rect x="55.41" y="103.24" width="19.25" height="4.37" fill="#396bf9"/><rect x="74.36" y="103.24" width="5.04" height="4.37" fill="#2884f6"/><rect x="79.10" y="103.24" width="5.04" height="4.37" fill="#4df3ce"/><rect x="83.84" y="103.24" width="23.99" height="4.37" fill="#66fcc2"/><rect x="107.52" y="103.24" width="9.78" height="4.37" fill="#99fca6"/><rect x="117.00" y="103.24" width="5.04" height="4.37" fill="#ff9d53"/><rect x="121.74" y="103.24" width="33.46" height="4.37" fill="#e6cd73"/><rect x="154.90" y="103.24" width="14.51" height="4.37" fill="#d0e082"/><rect x="169.11" y="103.24" width="19.25" height="4.37" fill="#bced8f"/><rect x="188.06" y="103.24" width="5.04" height="4.37" fill="#ffb360"/><rect x="192.80" y="103.24" width="5.04" height="4.37" fill="#d0e082"/><rect x="45.94" y="107.32" width="5.04" height="4.37" fill="#396bf9"/><rect x="50.67" y="107.32" width="28.72" height="4.37" fill="#00b5eb"/><rect x="79.10" y="107.32" width="5.04" height="4.37" fill="#66fcc2"/><rect x="83.84" y="107.32" width="19.25" height="4.37" fill="#80ffb4"/><rect x="102.79" y="107.32" width="14.51" height="4.37" fill="#99fca6"/><rect x="117.00" y="107.32" width="9.78" height="4.37" fill="#bced8f"/><rect x="126.47" y="107.32" width="5.04" height="4.37" fill="#ffb360"/><rect x="131.21" y="107.32" width="14.51" height="4.37" fill="#e6cd73"/><rect x="145.43" y="107.32" width="9.78" height="4.37" fill="#bced8f"/><rect x="154.90" y="107.32" width="14.51" height="4.37" fill="#d0e082"/><rect x="169.11" y="107.32" width="14.51" height="4.37" fill="#bced8f"/><rect x="183.32" y="107.32" width="5.04" height="4.37" fill="#e6cd73"/><rect x="188.06" y="107.32" width="5.04" height="4.37" fill="#d0e082"/><rect x="50.67" y="111.39" width="14.51" height="4.37" fill="#396bf9"/><rect x="64.89" y="111.39" width="14.51" height="4.37" fill="#00b5eb"/><rect x="79.10" y="111.39" width="5.04" height="4.37" fill="#80ffb4"/><rect x="83.84" y="111.39" width="9.78" height="4.37" fill="#ff4422"/><rect x="93.31" y="111.39" width="5.04" height="4.37" fill="#80ffb4"/><rect x="98.05" y="111.39" width="5.04" height="4.37" fill="#e6cd73"/><rect x="102.79" y="111.39" width="14.51" height="4.37" fill="#99fca6"/><rect x="117.00" y="111.39" width="5.04" height="4.37" fill="#d0e082"/><rect x="121.74" y="111.39" width="5.04" height="4.37" fill="#ff9d53"/><rect x="126.47" y="111.39" width="19.25" height="4.37" fill="#ffb360"/><rect x="145.43" y="111.39" width="9.78" height="4.37" fill="#bced8f"/><rect x="154.90" y="111.39" width="19.25" height="4.37" fill="#ff4422"/><rect x="173.85" y="111.39" width="5.04" height="4.37" fill="#e6cd73"/><rect x="178.59" y="111.39" width="9.78" height="4.37" fill="#bced8f"/><rect x="188.06" y="111.39" width="5.04" height="4.37" fill="#d0e082"/><rect x="64.89" y="115.46" width="5.04" height="4.37" fill="#396bf9"/><rect x="79.10" y="115.46" width="9.78" height="4.37" fill="#99fca6"/><rect x="102.79" y="115.46" width="14.51" height="4.37" fill="#99fca6"/><rect x="117.00" y="115.46" width="9.78" height="4.37" fill="#ff9d53"/><rect x="126.47" y="115.46" width="19.25" height="4.37" fill="#ffb360"/><rect x="145.43" y="115.46" width="9.78" height="4.37" fill="#bced8f"/><rect x="154.90" y="115.46" width="19.25" height="4.37" fill="#ff4422"/><rect x="173.85" y="115.46" width="9.78" height="4.37" fill="#ffb360"/><rect x="183.32" y="115.46" width="9.78" height="4.37" fill="#ff9d53"/><rect x="102.79" y="119.53" width="5.04" height="4.37" fill="#99fca6"/><rect x="107.52" y="119.53" width="5.04" height="4.37" fill="#ffb360"/><rect x="112.26" y="119.53" width="5.04" height="4.37" fill="#ff6b37"/><rect x="117.00" y="119.53" width="9.78" height="4.37" fill="#ff9d53"/><rect x="126.47" y="119.53" width="19.25" height="4.37" fill="#ffb360"/><rect x="145.43" y="119.53" width="9.78" height="4.37" fill="#bced8f"/><rect x="154.90" y="119.53" width="19.25" height="4.37" fill="#ff4422"/><rect x="173.85" y="119.53" width="14.51" height="4.37" fill="#ff9d53"/><rect x="102.79" y="123.60" width="5.04" height="4.37" fill="#ffb360"/><rect x="107.52" y="123.60" width="5.04" height="4.37" fill="#ff9d53"/><rect x="112.26" y="123.60" width="5.04" height="4.37" fill="#ff6b37"/><rect x="117.00" y="123.60" width="28.72" height="4.37" fill="#ff9d53"/><rect x="145.43" y="123.60" width="9.78" height="4.37" fill="#ffb360"/><rect x="154.90" y="123.60" width="28.72" height="4.37" fill="#ff4422"/><rect x="102.79" y="127.67" width="9.78" height="4.37" fill="#ffb360"/><rect x="112.26" y="127.67" width="23.99" height="4.37" fill="#ff9d53"/><rect x="135.95" y="127.67" width="47.67" height="4.37" fill="#ff4422"/><rect x="102.79" y="131.74" width="9.78" height="4.37" fill="#ff9d53"/><rect x="112.26" y="131.74" width="5.04" height="4.37" fill="#ffb360"/><rect x="117.00" y="131.74" width="14.51" height="4.37" fill="#ff9d53"/><rect x="131.21" y="131.74" width="23.99" height="4.37" fill="#ff6b37"/><rect x="154.90" y="131.74" width="23.99" height="4.37" fill="#ff8444"/><rect x="107.52" y="135.81" width="19.25" height="4.37" fill="#ff9d53"/><rect x="131.21" y="135.81" width="23.99" height="4.37" fill="#ff8444"/><rect x="154.90" y="135.81" width="19.25" height="4.37" fill="#ff9d53"/><rect x="107.52" y="139.88" width="9.78" height="4.37" fill="#ff9d53"/><rect x="135.95" y="139.88" width="19.25" height="4.37" fill="#ff8444"/><rect x="154.90" y="139.88" width="9.78" height="4.37" fill="#ff9d53"/><rect x="112.26" y="143.95" width="5.04" height="4.37" fill="#ff9d53"/><rect x="145.43" y="143.95" width="5.04" height="4.37" fill="#ff9d53"/></g><g><polyline class="prov" points="31.5,85.7 36.0,84.8 42.4,85.7 47.0,83.0 54.2,81.2 61.5,80.3 67.9,81.2 71.5,82.1"/><polyline class="prov" points="71.5,82.1 73.3,76.6 72.4,72.1 75.1,69.4 81.5,68.5 85.1,66.6"/><polyline class="prov" points="85.1,66.6 83.3,63.0 87.0,59.4 92.4,56.6 96.1,53.5"/><polyline class="prov" points="71.5,82.1 70.6,87.5 72.4,93.0 76.0,95.7 81.5,96.6 87.0,94.8 92.4,96.6 96.0,99.4 102.0,97.5"/><polyline class="prov" points="85.1,66.6 90.6,68.5 97.0,71.2 102.4,69.4 107.9,72.1 113.3,73.9 117.9,78.5 120.6,83.0 118.8,87.5 115.1,91.2 113.3,93.9"/><polyline class="prov" points="113.3,93.9 107.9,94.8 102.4,93.0 102.0,97.5"/><polyline class="prov" points="113.3,93.9 118.8,93.0 122.4,95.7 127.0,98.5 130.6,99.4"/><polyline class="prov" points="98.8,55.7 102.4,60.3 107.9,63.0 110.6,60.3 109.7,65.7 115.1,68.5 120.6,72.1 125.1,70.3 127.9,68.5"/><polyline class="prov" points="127.9,68.5 131.5,66.6 135.1,69.4 136.0,74.8 134.2,80.3 130.6,83.9 127.9,80.3 127.0,73.9 127.9,68.5"/><polyline class="prov" points="130.6,83.9 135.1,85.7 139.7,84.8 137.9,90.3 134.2,94.8 130.6,99.4"/><polyline class="prov" points="136.0,74.8 140.6,75.7 144.2,72.1 148.8,68.5 151.5,65.7"/><polyline class="prov" points="151.5,65.7 156.0,63.9 161.5,62.1 164.2,60.3 167.9,56.6"/><polyline class="prov" points="151.5,65.7 152.4,73.0 150.6,80.3 151.5,87.5 153.3,93.0"/><polyline class="prov" points="164.2,60.3 163.3,66.6 166.0,72.1 164.2,78.5 166.0,84.8 163.3,88.5 157.9,91.2 153.3,93.0"/><polyline class="prov" points="153.3,93.0 152.4,96.6 148.8,99.4 146.0,102.1"/><polyline class="prov" points="130.6,99.4 136.0,100.3 140.6,103.0 146.0,102.1"/><polyline class="prov" points="167.9,56.6 171.5,54.8 175.1,51.2 180.6,52.1 184.2,48.5 189.7,47.5 193.5,51.0 197.5,49.0 199.7,46.5"/><polyline class="prov" points="189.7,47.5 190.5,55.0 188.0,62.5"/><polyline class="prov" points="174.5,59.0 178.5,57.5 181.5,60.0 180.5,64.0 182.5,68.0 179.0,69.0 176.5,65.0 173.5,63.0 174.5,59.0"/><polyline class="prov" points="166.0,84.8 171.5,83.9 175.1,80.3 178.8,76.6 182.4,73.9"/><polyline class="prov" points="171.5,83.9 174.2,87.5 178.8,89.4 182.4,87.5 186.0,85.7 189.0,84.2"/><polyline class="prov" points="178.8,89.4 177.0,93.9 179.7,98.5 177.9,103.0 175.1,105.7"/><polyline class="prov" points="146.0,102.1 151.5,101.2 157.0,103.0 163.3,102.1 169.7,104.8 175.1,105.7"/><polyline class="prov" points="182.4,87.5 184.2,93.0 187.9,96.6 186.0,102.1 189.2,104.0"/><polyline class="prov" points="191.2,8.6 195.1,11.7 199.7,14.0 203.6,13.2 207.5,14.8 208.2,18.6 205.9,22.5 202.8,25.6 198.2,27.9 195.1,31.8"/><polyline class="prov" points="195.1,31.8 197.4,35.6 195.1,39.5 196.6,43.4 199.7,46.5"/><polyline class="prov" points="197.4,35.6 202.8,34.9 207.5,37.2 211.3,41.8 216.0,44.9 220.6,46.5 225.2,49.5 227.8,48.0"/><polyline class="prov" points="199.7,46.5 204.4,48.0 208.2,51.1 211.3,54.2 214.4,57.5"/><polyline class="prov" points="102.0,91.3 103.8,98.5 102.9,105.8 104.7,111.3 104.1,116.5"/><polyline class="prov" points="104.7,111.3 109.2,113.1 113.8,111.3 116.5,114.9 120.1,115.8 123.8,114.0 127.4,115.8"/><polyline class="prov" points="127.4,115.8 130.1,111.3 132.9,107.6 137.4,105.8 140.1,102.2 139.2,97.6 142.0,94.9 144.7,93.1"/><polyline class="prov" points="140.1,102.2 144.7,104.0 148.3,107.6 146.5,111.3 142.9,110.4 140.1,113.1 136.5,110.0 132.9,107.6"/><polyline class="prov" points="127.4,115.8 126.5,120.4 129.2,124.0 127.4,127.6 131.0,130.4 135.6,129.5 133.7,134.0 131.5,137.0"/><polyline class="prov" points="146.5,111.3 149.2,115.8 147.4,120.4 149.2,124.9 145.6,127.6"/><polyline class="prov" points="131.0,130.4 135.6,126.7 140.1,127.6 145.6,127.6"/><polyline class="prov" points="145.6,127.6 150.1,126.7 154.7,129.5 159.2,127.6 162.0,126.7"/><polyline class="prov" points="154.7,129.5 155.6,134.0 152.9,138.5 154.7,143.5"/><polyline class="prov" points="162.0,126.7 162.9,121.3 161.0,115.8 162.9,111.3 161.0,107.6"/><polyline class="prov" points="148.3,107.6 152.9,106.7 157.4,108.5 161.0,107.6"/><polyline class="prov" points="161.0,107.6 165.6,105.8 170.1,106.7 173.8,104.9 175.1,105.7"/><polyline class="prov" points="162.0,126.7 166.5,125.8 170.1,127.6 173.8,124.9"/><polyline class="prov" points="173.8,124.9 176.5,119.5 179.2,114.0 182.0,110.4 180.1,106.7"/><polyline class="prov" points="173.8,124.9 176.5,128.5 178.3,132.5"/><polyline class="prov" points="182.0,110.4 185.6,113.1 189.0,115.5"/><polyline class="prov" points="173.8,104.9 177.4,106.7 180.1,106.7"/><polyline class="prov" points="180.1,106.7 182.9,103.1 186.5,102.2 189.2,104.0 193.0,103.0"/><polygon class="out" points="10.4,67.4 11.7,64.7 15.1,62.4 17.9,62.9 22.0,59.9 26.1,58.8 30.8,56.5 34.9,53.8 36.3,49.7 34.9,46.3 34.2,43.6 38.3,42.2 42.4,40.8 45.8,36.1 48.6,34.0 53.3,34.3 55.4,30.6 58.1,28.3 60.2,25.8 62.9,25.5 64.9,27.7 68.3,29.9 73.8,31.3 75.1,36.7 75.1,40.8 78.5,42.9 87.4,43.6 90.8,46.3 94.2,49.0 97.7,52.4 105.2,53.1 113.3,52.8 118.8,54.2 122.9,56.5 128.3,57.6 132.4,55.6 136.0,54.5 142.9,53.8 148.3,51.7 153.1,48.3 153.8,44.2 158.6,43.3 164.7,40.8 171.5,39.5 175.6,36.7 181.1,36.1 184.5,34.0 181.1,31.3 175.6,30.6 170.2,31.0 168.8,28.2 172.0,24.0 178.2,22.0 182.7,20.2 185.0,14.0 187.4,9.4 191.2,7.0 197.4,6.3 203.6,7.0 208.2,10.1 211.3,14.0 213.6,20.2 219.1,22.5 223.7,25.6 226.8,30.2 233.0,31.8 239.1,28.7 243.0,28.7 240.7,33.3 237.6,38.7 234.5,42.6 229.9,44.9 228.0,50.0 225.2,52.6 220.6,54.2 217.5,58.0 214.4,58.8 211.3,56.8 207.9,59.5 203.2,63.3 198.6,66.4 196.3,68.7 193.2,67.2 194.0,64.1 192.4,61.8 187.8,63.3 183.9,66.4 180.0,68.0 177.7,71.0 180.0,74.1 184.7,74.1 186.2,75.7 190.1,74.9 194.7,76.5 192.4,78.8 188.5,80.3 184.7,84.2 184.7,88.8 187.8,93.5 190.9,98.3 193.2,102.1 195.5,105.2 194.0,109.9 192.5,113.7 190.1,118.4 187.8,122.2 184.7,126.1 181.6,129.2 177.8,133.0 173.1,136.9 168.5,140.0 162.3,142.3 156.1,143.9 149.5,145.3 146.4,146.9 147.2,150.0 144.9,148.4 144.1,145.3 141.0,143.8 137.1,143.0 134.1,139.1 131.0,136.8 127.1,137.6 124.0,139.9 119.4,140.7 116.3,142.2 114.7,146.1 111.6,144.5 108.5,143.0 107.0,139.1 104.7,135.3 100.8,133.7 100.8,130.6 103.9,127.5 104.7,122.9 103.9,118.3 101.6,115.2 98.5,114.4 94.6,116.0 90.8,116.7 86.1,119.0 81.9,120.5 80.3,118.2 75.7,116.6 70.3,115.9 68.0,119.4 65.6,117.0 61.0,117.4 55.6,115.9 51.0,113.6 47.1,111.2 43.2,108.9 39.4,106.6 34.7,104.3 30.1,101.2 28.5,97.3 30.1,92.7 28.5,88.0 24.7,84.2 20.8,80.3 17.7,76.5 17.0,71.8 13.1,70.3 10.0,68.5"/><ellipse class="out" style="stroke-width:1" cx="146.9" cy="154.7" rx="4.5" ry="3.8" transform="rotate(-30 146.9 154.7)"/><polygon points="192.5,127.9 193.2,130.0 192.1,135.0 190.4,139.5 188.8,142.2 187.7,141.3 186.5,137.8 186.5,134.5 187.9,131.5 190.5,128.8" fill="none" stroke="#000" stroke-width="1.25" stroke-linejoin="round"/><polyline points="187.8,93.5 190.9,98.3 193.2,102.1 195.5,105.2 194.0,109.9 192.5,113.7 190.1,118.4 187.8,122.2 184.7,126.1 181.6,129.2 177.8,133.0 173.1,136.9 168.5,140.0 162.3,142.3 156.1,143.9 149.5,145.3 146.4,146.9" fill="none" stroke="#0a0a0a" stroke-width="1.9" stroke-linejoin="round" stroke-linecap="round"/><polyline class="isl" points="195.2,131.9 195.6,136.0"/><polyline class="isl" points="190.6,142.9 193.1,144.0 190.4,147.1"/><polyline class="isl" points="198.3,125.7 198.8,126.4"/><polyline class="isl" points="193.5,127.0 193.9,127.6"/><polyline class="isl" points="170.1,146.8 170.7,147.4"/><polyline class="isl" points="173.3,147.8 174.0,148.4"/><polyline class="isl" points="185.8,155.8 184.3,161.4"/><polyline class="isl" points="183.0,169.1 182.1,172.5"/><polyline class="isl" points="153.7,164.5 154.9,165.3"/><polyline class="isl" points="155.7,166.8 157.0,166.2"/><polyline class="isl" points="154.5,167.6 155.1,168.4"/><polyline class="isl" points="162.5,169.0 164.1,168.2"/><polyline class="isl" points="165.1,169.6 167.0,169.0"/><polyline class="isl" points="144.8,169.1 145.9,172.5"/><polyline class="isl" points="176.5,170.0 177.5,171.0"/><polyline class="isl" points="132.5,165.0 132.0,167.5"/></g></g><rect x="203.8" y="122.7" width="46.2" height="50.3" fill="#fff" stroke="#222" stroke-width="1"/><polyline points="204.3,123.8 206.0,126.5 207.7,128.0 209.8,129.0 211.8,129.3 214.3,128.6 216.7,128.4 218.8,127.6 220.8,127.3 223.3,127.1 225.6,126.6 228.1,126.0 230.5,125.2 232.7,124.0 234.6,123.3 238.1,122.9" fill="none" stroke="#151515" stroke-width="0.8"/><polyline points="239.9,125.0 240.9,126.4 241.4,128.6" fill="none" stroke="#151515" stroke-width="0.8"/><polyline points="238.1,134.2 237.1,136.2" fill="none" stroke="#151515" stroke-width="0.8"/><polyline points="235.3,150.7 233.9,152.8" fill="none" stroke="#151515" stroke-width="0.8"/><polyline points="215.3,140.4 216.0,142.4" fill="none" stroke="#151515" stroke-width="0.8"/><polyline points="216.0,150.0 216.4,152.1" fill="none" stroke="#151515" stroke-width="0.8"/><polyline points="211.2,161.8 211.8,163.8" fill="none" stroke="#151515" stroke-width="0.8"/><polyline points="220.1,168.0 221.5,169.3" fill="none" stroke="#151515" stroke-width="0.8"/><polyline points="222.2,163.8 221.1,166.4" fill="none" stroke="#151515" stroke-width="0.8"/><polyline points="218.8,139.4 221.3,140.6" fill="none" stroke="#151515" stroke-width="0.8"/><polyline points="219.5,141.0 221.0,139.2" fill="none" stroke="#151515" stroke-width="0.8"/><polyline points="224.3,141.0 226.8,140.5" fill="none" stroke="#151515" stroke-width="0.8"/><polyline points="232.5,142.4 233.9,143.8" fill="none" stroke="#151515" stroke-width="0.8"/><polyline points="221.9,133.6 222.7,132.6" fill="none" stroke="#151515" stroke-width="0.8"/><polyline points="215.3,160.1 218.1,159.0" fill="none" stroke="#151515" stroke-width="0.8"/><polyline points="220.1,157.6 222.2,156.5" fill="none" stroke="#151515" stroke-width="0.8"/><polyline points="224.3,159.0 225.6,159.7 227.0,159.0" fill="none" stroke="#151515" stroke-width="0.8"/><polyline points="228.4,156.9 229.8,155.6" fill="none" stroke="#151515" stroke-width="0.8"/><polyline points="231.2,154.2 233.2,152.8" fill="none" stroke="#151515" stroke-width="0.8"/><polyline points="225.6,152.1 226.3,154.2" fill="none" stroke="#151515" stroke-width="0.8"/><polyline points="223.6,160.4 223.0,161.6" fill="none" stroke="#151515" stroke-width="0.8"/><polyline points="225.1,156.6 226.9,157.4" fill="none" stroke="#151515" stroke-width="0.8"/><polyline points="226.5,155.2 227.7,154.2" fill="none" stroke="#151515" stroke-width="0.8"/><ellipse cx="214.6" cy="132.8" rx="2.5" ry="1.8" fill="#fff" stroke="#111" stroke-width="0.8" transform="rotate(-30 214.6 132.8)"/><rect x="229.2" y="128.2" width="1.2" height="0.9" fill="#222"/><rect x="235.5" y="123.1" width="1.2" height="0.9" fill="#222"/><rect x="242.4" y="125.0" width="1.2" height="0.9" fill="#222"/><rect x="230.7" y="136.8" width="1.2" height="0.9" fill="#222"/><rect x="217.4" y="145.1" width="1.2" height="0.9" fill="#222"/><rect x="210.9" y="156.6" width="1.2" height="0.9" fill="#222"/><rect x="227.4" y="161.1" width="1.2" height="0.9" fill="#222"/><rect x="217.9" y="169.6" width="1.2" height="0.9" fill="#222"/><text class="n" x="237.9" y="7.6" text-anchor="middle">N</text><polygon points="237.7,10.9 233.9,23.4 237.4,20.1" fill="#111" stroke="#111" stroke-width="0.5"/><polygon points="237.7,10.9 241.2,22.9 237.4,20.1" fill="#fff" stroke="#999" stroke-width="0.4"/><rect class="frame" x="0" y="0" width="250" height="173"/><text class="pl" x="6.7" y="18.3">(b)</text><text class="ax" x="2.7" y="168.3" textLength="42.6" lengthAdjust="spacingAndGlyphs">SSP245</text></g>
<g transform="translate(38.5,188)"><g clip-path="url(#pc)"><line class="grid" x1="72.0" x2="72.0" y1="0" y2="173"/><line class="grid" x1="185.7" x2="185.7" y1="0" y2="173"/><line class="grid" x1="0" x2="250" y1="151.1" y2="151.1"/><line class="grid" x1="0" x2="250" y1="107.9" y2="107.9"/><line class="grid" x1="0" x2="250" y1="64.7" y2="64.7"/><line class="grid" x1="0" x2="250" y1="21.5" y2="21.5"/><g clip-path="url(#cn)" shape-rendering="crispEdges"><rect x="188.06" y="5.54" width="23.99" height="4.37" fill="#66fcc2"/><rect x="188.06" y="9.61" width="23.99" height="4.37" fill="#66fcc2"/><rect x="183.32" y="13.68" width="28.72" height="4.37" fill="#66fcc2"/><rect x="183.32" y="17.75" width="23.99" height="4.37" fill="#66fcc2"/><rect x="207.01" y="17.75" width="5.04" height="4.37" fill="#4df3ce"/><rect x="173.85" y="21.82" width="23.99" height="4.37" fill="#4df3ce"/><rect x="197.54" y="21.82" width="5.04" height="4.37" fill="#32e3da"/><rect x="202.27" y="21.82" width="19.25" height="4.37" fill="#66fcc2"/><rect x="169.11" y="25.90" width="5.04" height="4.37" fill="#66fcc2"/><rect x="173.85" y="25.90" width="9.78" height="4.37" fill="#396bf9"/><rect x="183.32" y="25.90" width="14.51" height="4.37" fill="#32e3da"/><rect x="197.54" y="25.90" width="5.04" height="4.37" fill="#00b5eb"/><rect x="202.27" y="25.90" width="9.78" height="4.37" fill="#4df3ce"/><rect x="211.75" y="25.90" width="14.51" height="4.37" fill="#66fcc2"/><rect x="60.15" y="29.97" width="9.78" height="4.37" fill="#2884f6"/><rect x="69.62" y="29.97" width="5.04" height="4.37" fill="#4856fb"/><rect x="183.32" y="29.97" width="9.78" height="4.37" fill="#32e3da"/><rect x="192.80" y="29.97" width="9.78" height="4.37" fill="#149df1"/><rect x="202.27" y="29.97" width="14.51" height="4.37" fill="#4df3ce"/><rect x="216.49" y="29.97" width="23.99" height="4.37" fill="#66fcc2"/><rect x="45.94" y="34.04" width="14.51" height="4.37" fill="#396bf9"/><rect x="60.15" y="34.04" width="5.04" height="4.37" fill="#583efd"/><rect x="64.89" y="34.04" width="9.78" height="4.37" fill="#2884f6"/><rect x="183.32" y="34.04" width="9.78" height="4.37" fill="#396bf9"/><rect x="192.80" y="34.04" width="9.78" height="4.37" fill="#18cde4"/><rect x="202.27" y="34.04" width="14.51" height="4.37" fill="#4df3ce"/><rect x="216.49" y="34.04" width="23.99" height="4.37" fill="#66fcc2"/><rect x="41.20" y="38.11" width="5.04" height="4.37" fill="#4856fb"/><rect x="45.94" y="38.11" width="9.78" height="4.37" fill="#396bf9"/><rect x="55.41" y="38.11" width="9.78" height="4.37" fill="#583efd"/><rect x="64.89" y="38.11" width="9.78" height="4.37" fill="#396bf9"/><rect x="169.11" y="38.11" width="14.51" height="4.37" fill="#396bf9"/><rect x="183.32" y="38.11" width="9.78" height="4.37" fill="#32e3da"/><rect x="192.80" y="38.11" width="9.78" height="4.37" fill="#18cde4"/><rect x="202.27" y="38.11" width="23.99" height="4.37" fill="#4df3ce"/><rect x="225.96" y="38.11" width="5.04" height="4.37" fill="#d0e082"/><rect x="230.70" y="38.11" width="5.04" height="4.37" fill="#66fcc2"/><rect x="36.46" y="42.18" width="5.04" height="4.37" fill="#4856fb"/><rect x="41.20" y="42.18" width="5.04" height="4.37" fill="#18cde4"/><rect x="45.94" y="42.18" width="9.78" height="4.37" fill="#2884f6"/><rect x="55.41" y="42.18" width="19.25" height="4.37" fill="#583efd"/><rect x="74.36" y="42.18" width="14.51" height="4.37" fill="#32e3da"/><rect x="154.90" y="42.18" width="28.72" height="4.37" fill="#396bf9"/><rect x="183.32" y="42.18" width="9.78" height="4.37" fill="#32e3da"/><rect x="192.80" y="42.18" width="9.78" height="4.37" fill="#18cde4"/><rect x="202.27" y="42.18" width="28.72" height="4.37" fill="#66fcc2"/><rect x="36.46" y="46.25" width="19.25" height="4.37" fill="#396bf9"/><rect x="55.41" y="46.25" width="5.04" height="4.37" fill="#149df1"/><rect x="60.15" y="46.25" width="33.46" height="4.37" fill="#583efd"/><rect x="154.90" y="46.25" width="23.99" height="4.37" fill="#4856fb"/><rect x="178.59" y="46.25" width="9.78" height="4.37" fill="#2884f6"/><rect x="188.06" y="46.25" width="5.04" height="4.37" fill="#18cde4"/><rect x="192.80" y="46.25" width="5.04" height="4.37" fill="#32e3da"/><rect x="197.54" y="46.25" width="9.78" height="4.37" fill="#99fca6"/><rect x="207.01" y="46.25" width="14.51" height="4.37" fill="#66fcc2"/><rect x="221.22" y="46.25" width="5.04" height="4.37" fill="#e6cd73"/><rect x="225.96" y="46.25" width="5.04" height="4.37" fill="#66fcc2"/><rect x="36.46" y="50.32" width="28.72" height="4.37" fill="#396bf9"/><rect x="64.89" y="50.32" width="14.51" height="4.37" fill="#4856fb"/><rect x="79.10" y="50.32" width="14.51" height="4.37" fill="#583efd"/><rect x="93.31" y="50.32" width="5.04" height="4.37" fill="#4856fb"/><rect x="145.43" y="50.32" width="9.78" height="4.37" fill="#2884f6"/><rect x="154.90" y="50.32" width="19.25" height="4.37" fill="#4856fb"/><rect x="173.85" y="50.32" width="5.04" height="4.37" fill="#18cde4"/><rect x="178.59" y="50.32" width="19.25" height="4.37" fill="#2884f6"/><rect x="197.54" y="50.32" width="9.78" height="4.37" fill="#d0e082"/><rect x="207.01" y="50.32" width="9.78" height="4.37" fill="#66fcc2"/><rect x="216.49" y="50.32" width="5.04" height="4.37" fill="#ffb360"/><rect x="221.22" y="50.32" width="5.04" height="4.37" fill="#66fcc2"/><rect x="31.72" y="54.39" width="14.51" height="4.37" fill="#4856fb"/><rect x="45.94" y="54.39" width="61.89" height="4.37" fill="#583efd"/><rect x="107.52" y="54.39" width="14.51" height="4.37" fill="#396bf9"/><rect x="131.21" y="54.39" width="23.99" height="4.37" fill="#396bf9"/><rect x="154.90" y="54.39" width="9.78" height="4.37" fill="#2884f6"/><rect x="164.38" y="54.39" width="5.04" height="4.37" fill="#149df1"/><rect x="169.11" y="54.39" width="19.25" height="4.37" fill="#66fcc2"/><rect x="188.06" y="54.39" width="14.51" height="4.37" fill="#d0e082"/><rect x="202.27" y="54.39" width="5.04" height="4.37" fill="#99fca6"/><rect x="207.01" y="54.39" width="9.78" height="4.37" fill="#ffb360"/><rect x="22.25" y="58.46" width="23.99" height="4.37" fill="#4856fb"/><rect x="45.94" y="58.46" width="61.89" height="4.37" fill="#583efd"/><rect x="107.52" y="58.46" width="47.67" height="4.37" fill="#396bf9"/><rect x="154.90" y="58.46" width="5.04" height="4.37" fill="#2884f6"/><rect x="159.64" y="58.46" width="5.04" height="4.37" fill="#149df1"/><rect x="164.38" y="58.46" width="5.04" height="4.37" fill="#66fcc2"/><rect x="169.11" y="58.46" width="5.04" height="4.37" fill="#99fca6"/><rect x="173.85" y="58.46" width="5.04" height="4.37" fill="#ffb360"/><rect x="178.59" y="58.46" width="5.04" height="4.37" fill="#66fcc2"/><rect x="183.32" y="58.46" width="23.99" height="4.37" fill="#d0e082"/><rect x="12.77" y="62.53" width="23.99" height="4.37" fill="#4856fb"/><rect x="36.46" y="62.53" width="42.94" height="4.37" fill="#583efd"/><rect x="79.10" y="62.53" width="76.10" height="4.37" fill="#396bf9"/><rect x="154.90" y="62.53" width="9.78" height="4.37" fill="#00b5eb"/><rect x="164.38" y="62.53" width="5.04" height="4.37" fill="#ffb360"/><rect x="169.11" y="62.53" width="5.04" height="4.37" fill="#99fca6"/><rect x="173.85" y="62.53" width="5.04" height="4.37" fill="#ffb360"/><rect x="178.59" y="62.53" width="5.04" height="4.37" fill="#18cde4"/><rect x="183.32" y="62.53" width="5.04" height="4.37" fill="#d0e082"/><rect x="192.80" y="62.53" width="9.78" height="4.37" fill="#d0e082"/><rect x="8.04" y="66.61" width="5.04" height="4.37" fill="#4856fb"/><rect x="12.77" y="66.61" width="23.99" height="4.37" fill="#396bf9"/><rect x="36.46" y="66.61" width="42.94" height="4.37" fill="#583efd"/><rect x="79.10" y="66.61" width="19.25" height="4.37" fill="#2884f6"/><rect x="98.05" y="66.61" width="9.78" height="4.37" fill="#583efd"/><rect x="107.52" y="66.61" width="14.51" height="4.37" fill="#396bf9"/><rect x="121.74" y="66.61" width="33.46" height="4.37" fill="#2884f6"/><rect x="154.90" y="66.61" width="5.04" height="4.37" fill="#00b5eb"/><rect x="159.64" y="66.61" width="9.78" height="4.37" fill="#ffb360"/><rect x="169.11" y="66.61" width="5.04" height="4.37" fill="#18cde4"/><rect x="173.85" y="66.61" width="5.04" height="4.37" fill="#99fca6"/><rect x="17.51" y="70.68" width="23.99" height="4.37" fill="#4856fb"/><rect x="41.20" y="70.68" width="38.20" height="4.37" fill="#583efd"/><rect x="79.10" y="70.68" width="19.25" height="4.37" fill="#2884f6"/><rect x="98.05" y="70.68" width="9.78" height="4.37" fill="#583efd"/><rect x="107.52" y="70.68" width="14.51" height="4.37" fill="#396bf9"/><rect x="121.74" y="70.68" width="33.46" height="4.37" fill="#149df1"/><rect x="154.90" y="70.68" width="5.04" height="4.37" fill="#e6cd73"/><rect x="159.64" y="70.68" width="9.78" height="4.37" fill="#ffb360"/><rect x="169.11" y="70.68" width="5.04" height="4.37" fill="#18cde4"/><rect x="173.85" y="70.68" width="5.04" height="4.37" fill="#99fca6"/><rect x="17.51" y="74.75" width="28.72" height="4.37" fill="#4856fb"/><rect x="45.94" y="74.75" width="5.04" height="4.37" fill="#396bf9"/><rect x="50.67" y="74.75" width="28.72" height="4.37" fill="#4856fb"/><rect x="79.10" y="74.75" width="19.25" height="4.37" fill="#2884f6"/><rect x="98.05" y="74.75" width="9.78" height="4.37" fill="#583efd"/><rect x="107.52" y="74.75" width="5.04" height="4.37" fill="#4df3ce"/><rect x="112.26" y="74.75" width="5.04" height="4.37" fill="#66fcc2"/><rect x="117.00" y="74.75" width="5.04" height="4.37" fill="#396bf9"/><rect x="121.74" y="74.75" width="9.78" height="4.37" fill="#149df1"/><rect x="131.21" y="74.75" width="5.04" height="4.37" fill="#00b5eb"/><rect x="135.95" y="74.75" width="5.04" height="4.37" fill="#4df3ce"/><rect x="140.69" y="74.75" width="5.04" height="4.37" fill="#18cde4"/><rect x="145.43" y="74.75" width="5.04" height="4.37" fill="#ffb360"/><rect x="150.16" y="74.75" width="5.04" height="4.37" fill="#e6cd73"/><rect x="154.90" y="74.75" width="9.78" height="4.37" fill="#ffb360"/><rect x="164.38" y="74.75" width="14.51" height="4.37" fill="#d0e082"/><rect x="178.59" y="74.75" width="9.78" height="4.37" fill="#ffb360"/><rect x="188.06" y="74.75" width="5.04" height="4.37" fill="#d0e082"/><rect x="22.25" y="78.82" width="5.04" height="4.37" fill="#18cde4"/><rect x="26.99" y="78.82" width="5.04" height="4.37" fill="#4df3ce"/><rect x="31.72" y="78.82" width="42.94" height="4.37" fill="#4856fb"/><rect x="74.36" y="78.82" width="5.04" height="4.37" fill="#18cde4"/><rect x="79.10" y="78.82" width="19.25" height="4.37" fill="#2884f6"/><rect x="98.05" y="78.82" width="9.78" height="4.37" fill="#583efd"/><rect x="107.52" y="78.82" width="23.99" height="4.37" fill="#4df3ce"/><rect x="131.21" y="78.82" width="9.78" height="4.37" fill="#e6cd73"/><rect x="140.69" y="78.82" width="5.04" height="4.37" fill="#99fca6"/><rect x="145.43" y="78.82" width="19.25" height="4.37" fill="#ffb360"/><rect x="164.38" y="78.82" width="14.51" height="4.37" fill="#d0e082"/><rect x="178.59" y="78.82" width="5.04" height="4.37" fill="#ffb360"/><rect x="183.32" y="78.82" width="5.04" height="4.37" fill="#18cde4"/><rect x="26.99" y="82.89" width="5.04" height="4.37" fill="#396bf9"/><rect x="31.72" y="82.89" width="5.04" height="4.37" fill="#18cde4"/><rect x="36.46" y="82.89" width="38.20" height="4.37" fill="#396bf9"/><rect x="74.36" y="82.89" width="23.99" height="4.37" fill="#18cde4"/><rect x="98.05" y="82.89" width="9.78" height="4.37" fill="#32e3da"/><rect x="107.52" y="82.89" width="9.78" height="4.37" fill="#4df3ce"/><rect x="117.00" y="82.89" width="14.51" height="4.37" fill="#99fca6"/><rect x="131.21" y="82.89" width="5.04" height="4.37" fill="#ff9d53"/><rect x="135.95" y="82.89" width="5.04" height="4.37" fill="#e6cd73"/><rect x="140.69" y="82.89" width="14.51" height="4.37" fill="#d0e082"/><rect x="154.90" y="82.89" width="5.04" height="4.37" fill="#ffb360"/><rect x="159.64" y="82.89" width="19.25" height="4.37" fill="#d0e082"/><rect x="178.59" y="82.89" width="5.04" height="4.37" fill="#e6cd73"/><rect x="26.99" y="86.96" width="47.67" height="4.37" fill="#396bf9"/><rect x="74.36" y="86.96" width="5.04" height="4.37" fill="#32e3da"/><rect x="79.10" y="86.96" width="9.78" height="4.37" fill="#396bf9"/><rect x="88.57" y="86.96" width="5.04" height="4.37" fill="#00b5eb"/><rect x="93.31" y="86.96" width="9.78" height="4.37" fill="#32e3da"/><rect x="102.79" y="86.96" width="5.04" height="4.37" fill="#4df3ce"/><rect x="107.52" y="86.96" width="9.78" height="4.37" fill="#d0e082"/><rect x="117.00" y="86.96" width="14.51" height="4.37" fill="#99fca6"/><rect x="131.21" y="86.96" width="47.67" height="4.37" fill="#d0e082"/><rect x="178.59" y="86.96" width="5.04" height="4.37" fill="#ffb360"/><rect x="31.72" y="91.03" width="47.67" height="4.37" fill="#396bf9"/><rect x="79.10" y="91.03" width="14.51" height="4.37" fill="#2884f6"/><rect x="93.31" y="91.03" width="9.78" height="4.37" fill="#32e3da"/><rect x="102.79" y="91.03" width="28.72" height="4.37" fill="#99fca6"/><rect x="131.21" y="91.03" width="9.78" height="4.37" fill="#ffb360"/><rect x="140.69" y="91.03" width="28.72" height="4.37" fill="#d0e082"/><rect x="169.11" y="91.03" width="19.25" height="4.37" fill="#ffb360"/><rect x="26.99" y="95.10" width="57.15" height="4.37" fill="#396bf9"/><rect x="83.84" y="95.10" width="9.78" height="4.37" fill="#149df1"/><rect x="93.31" y="95.10" width="5.04" height="4.37" fill="#4df3ce"/><rect x="98.05" y="95.10" width="33.46" height="4.37" fill="#bced8f"/><rect x="131.21" y="95.10" width="33.46" height="4.37" fill="#d0e082"/><rect x="164.38" y="95.10" width="23.99" height="4.37" fill="#ffb360"/><rect x="31.72" y="99.17" width="9.78" height="4.37" fill="#18cde4"/><rect x="41.20" y="99.17" width="38.20" height="4.37" fill="#396bf9"/><rect x="79.10" y="99.17" width="5.04" height="4.37" fill="#00b5eb"/><rect x="83.84" y="99.17" width="5.04" height="4.37" fill="#80ffb4"/><rect x="88.57" y="99.17" width="5.04" height="4.37" fill="#99fca6"/><rect x="93.31" y="99.17" width="23.99" height="4.37" fill="#d0e082"/><rect x="117.00" y="99.17" width="5.04" height="4.37" fill="#bced8f"/><rect x="121.74" y="99.17" width="5.04" height="4.37" fill="#ffb360"/><rect x="126.47" y="99.17" width="28.72" height="4.37" fill="#d0e082"/><rect x="154.90" y="99.17" width="9.78" height="4.37" fill="#ff9d53"/><rect x="164.38" y="99.17" width="9.78" height="4.37" fill="#d0e082"/><rect x="173.85" y="99.17" width="5.04" height="4.37" fill="#ffb360"/><rect x="178.59" y="99.17" width="5.04" height="4.37" fill="#ff8444"/><rect x="183.32" y="99.17" width="5.04" height="4.37" fill="#ff4422"/><rect x="188.06" y="99.17" width="5.04" height="4.37" fill="#ff9d53"/><rect x="36.46" y="103.24" width="5.04" height="4.37" fill="#396bf9"/><rect x="41.20" y="103.24" width="5.04" height="4.37" fill="#32e3da"/><rect x="45.94" y="103.24" width="5.04" height="4.37" fill="#4df3ce"/><rect x="50.67" y="103.24" width="28.72" height="4.37" fill="#396bf9"/><rect x="79.10" y="103.24" width="5.04" height="4.37" fill="#18cde4"/><rect x="83.84" y="103.24" width="5.04" height="4.37" fill="#99fca6"/><rect x="88.57" y="103.24" width="9.78" height="4.37" fill="#bced8f"/><rect x="98.05" y="103.24" width="19.25" height="4.37" fill="#d0e082"/><rect x="117.00" y="103.24" width="5.04" height="4.37" fill="#bced8f"/><rect x="121.74" y="103.24" width="5.04" height="4.37" fill="#e6cd73"/><rect x="126.47" y="103.24" width="5.04" height="4.37" fill="#ff6b37"/><rect x="131.21" y="103.24" width="5.04" height="4.37" fill="#ff2211"/><rect x="135.95" y="103.24" width="9.78" height="4.37" fill="#ffb360"/><rect x="145.43" y="103.24" width="9.78" height="4.37" fill="#d0e082"/><rect x="154.90" y="103.24" width="23.99" height="4.37" fill="#ff4422"/><rect x="178.59" y="103.24" width="19.25" height="4.37" fill="#ff8444"/><rect x="45.94" y="107.32" width="5.04" height="4.37" fill="#396bf9"/><rect x="50.67" y="107.32" width="5.04" height="4.37" fill="#66fcc2"/><rect x="55.41" y="107.32" width="5.04" height="4.37" fill="#80ffb4"/><rect x="60.15" y="107.32" width="14.51" height="4.37" fill="#149df1"/><rect x="74.36" y="107.32" width="5.04" height="4.37" fill="#18cde4"/><rect x="79.10" y="107.32" width="5.04" height="4.37" fill="#66fcc2"/><rect x="83.84" y="107.32" width="5.04" height="4.37" fill="#bced8f"/><rect x="88.57" y="107.32" width="5.04" height="4.37" fill="#ff4422"/><rect x="93.31" y="107.32" width="5.04" height="4.37" fill="#bced8f"/><rect x="98.05" y="107.32" width="19.25" height="4.37" fill="#d0e082"/><rect x="117.00" y="107.32" width="9.78" height="4.37" fill="#99fca6"/><rect x="126.47" y="107.32" width="9.78" height="4.37" fill="#ff6b37"/><rect x="135.95" y="107.32" width="9.78" height="4.37" fill="#d0e082"/><rect x="145.43" y="107.32" width="9.78" height="4.37" fill="#bced8f"/><rect x="154.90" y="107.32" width="23.99" height="4.37" fill="#ff4422"/><rect x="178.59" y="107.32" width="14.51" height="4.37" fill="#ff8444"/><rect x="50.67" y="111.39" width="5.04" height="4.37" fill="#396bf9"/><rect x="55.41" y="111.39" width="9.78" height="4.37" fill="#80ffb4"/><rect x="64.89" y="111.39" width="14.51" height="4.37" fill="#4df3ce"/><rect x="79.10" y="111.39" width="5.04" height="4.37" fill="#66fcc2"/><rect x="83.84" y="111.39" width="5.04" height="4.37" fill="#ff8444"/><rect x="88.57" y="111.39" width="5.04" height="4.37" fill="#ff6b37"/><rect x="93.31" y="111.39" width="19.25" height="4.37" fill="#bced8f"/><rect x="112.26" y="111.39" width="5.04" height="4.37" fill="#ffb360"/><rect x="117.00" y="111.39" width="5.04" height="4.37" fill="#99fca6"/><rect x="121.74" y="111.39" width="5.04" height="4.37" fill="#ff9d53"/><rect x="126.47" y="111.39" width="19.25" height="4.37" fill="#ffb360"/><rect x="145.43" y="111.39" width="5.04" height="4.37" fill="#bced8f"/><rect x="150.16" y="111.39" width="28.72" height="4.37" fill="#ff4422"/><rect x="178.59" y="111.39" width="14.51" height="4.37" fill="#ff8444"/><rect x="64.89" y="115.46" width="5.04" height="4.37" fill="#396bf9"/><rect x="79.10" y="115.46" width="5.04" height="4.37" fill="#ff8444"/><rect x="83.84" y="115.46" width="5.04" height="4.37" fill="#ff9d53"/><rect x="102.79" y="115.46" width="14.51" height="4.37" fill="#bced8f"/><rect x="117.00" y="115.46" width="9.78" height="4.37" fill="#ff9d53"/><rect x="126.47" y="115.46" width="9.78" height="4.37" fill="#e6cd73"/><rect x="135.95" y="115.46" width="9.78" height="4.37" fill="#ffb360"/><rect x="145.43" y="115.46" width="5.04" height="4.37" fill="#ff8444"/><rect x="150.16" y="115.46" width="33.46" height="4.37" fill="#ff4422"/><rect x="183.32" y="115.46" width="5.04" height="4.37" fill="#ff8444"/><rect x="188.06" y="115.46" width="5.04" height="4.37" fill="#ff9d53"/><rect x="102.79" y="119.53" width="9.78" height="4.37" fill="#ffb360"/><rect x="112.26" y="119.53" width="5.04" height="4.37" fill="#ff9d53"/><rect x="117.00" y="119.53" width="9.78" height="4.37" fill="#ffb360"/><rect x="126.47" y="119.53" width="9.78" height="4.37" fill="#e6cd73"/><rect x="135.95" y="119.53" width="9.78" height="4.37" fill="#ffb360"/><rect x="145.43" y="119.53" width="5.04" height="4.37" fill="#ff8444"/><rect x="150.16" y="119.53" width="33.46" height="4.37" fill="#ff4422"/><rect x="183.32" y="119.53" width="5.04" height="4.37" fill="#ff9d53"/><rect x="102.79" y="123.60" width="5.04" height="4.37" fill="#ffb360"/><rect x="107.52" y="123.60" width="9.78" height="4.37" fill="#ff9d53"/><rect x="117.00" y="123.60" width="9.78" height="4.37" fill="#ffb360"/><rect x="126.47" y="123.60" width="9.78" height="4.37" fill="#e6cd73"/><rect x="135.95" y="123.60" width="14.51" height="4.37" fill="#ff6b37"/><rect x="150.16" y="123.60" width="19.25" height="4.37" fill="#ff4422"/><rect x="169.11" y="123.60" width="9.78" height="4.37" fill="#ff6b37"/><rect x="178.59" y="123.60" width="5.04" height="4.37" fill="#d0e082"/><rect x="102.79" y="127.67" width="5.04" height="4.37" fill="#ffb360"/><rect x="107.52" y="127.67" width="9.78" height="4.37" fill="#ff9d53"/><rect x="117.00" y="127.67" width="9.78" height="4.37" fill="#ffb360"/><rect x="126.47" y="127.67" width="5.04" height="4.37" fill="#e6cd73"/><rect x="131.21" y="127.67" width="23.99" height="4.37" fill="#ff6b37"/><rect x="154.90" y="127.67" width="5.04" height="4.37" fill="#ff4422"/><rect x="159.64" y="127.67" width="19.25" height="4.37" fill="#ff9d53"/><rect x="178.59" y="127.67" width="5.04" height="4.37" fill="#ff6b37"/><rect x="102.79" y="131.74" width="5.04" height="4.37" fill="#ffb360"/><rect x="107.52" y="131.74" width="9.78" height="4.37" fill="#ff9d53"/><rect x="117.00" y="131.74" width="14.51" height="4.37" fill="#ffb360"/><rect x="131.21" y="131.74" width="5.04" height="4.37" fill="#ff9d53"/><rect x="135.95" y="131.74" width="19.25" height="4.37" fill="#ff8444"/><rect x="154.90" y="131.74" width="23.99" height="4.37" fill="#ff9d53"/><rect x="107.52" y="135.81" width="19.25" height="4.37" fill="#ff9d53"/><rect x="131.21" y="135.81" width="5.04" height="4.37" fill="#ffb360"/><rect x="135.95" y="135.81" width="19.25" height="4.37" fill="#ff8444"/><rect x="154.90" y="135.81" width="19.25" height="4.37" fill="#ff9d53"/><rect x="107.52" y="139.88" width="9.78" height="4.37" fill="#ff9d53"/><rect x="135.95" y="139.88" width="14.51" height="4.37" fill="#ff9d53"/><rect x="150.16" y="139.88" width="5.04" height="4.37" fill="#e6cd73"/><rect x="154.90" y="139.88" width="9.78" height="4.37" fill="#d0e082"/><rect x="112.26" y="143.95" width="5.04" height="4.37" fill="#ff9d53"/><rect x="145.43" y="143.95" width="5.04" height="4.37" fill="#ff9d53"/></g><g><polyline class="prov" points="31.5,85.7 36.0,84.8 42.4,85.7 47.0,83.0 54.2,81.2 61.5,80.3 67.9,81.2 71.5,82.1"/><polyline class="prov" points="71.5,82.1 73.3,76.6 72.4,72.1 75.1,69.4 81.5,68.5 85.1,66.6"/><polyline class="prov" points="85.1,66.6 83.3,63.0 87.0,59.4 92.4,56.6 96.1,53.5"/><polyline class="prov" points="71.5,82.1 70.6,87.5 72.4,93.0 76.0,95.7 81.5,96.6 87.0,94.8 92.4,96.6 96.0,99.4 102.0,97.5"/><polyline class="prov" points="85.1,66.6 90.6,68.5 97.0,71.2 102.4,69.4 107.9,72.1 113.3,73.9 117.9,78.5 120.6,83.0 118.8,87.5 115.1,91.2 113.3,93.9"/><polyline class="prov" points="113.3,93.9 107.9,94.8 102.4,93.0 102.0,97.5"/><polyline class="prov" points="113.3,93.9 118.8,93.0 122.4,95.7 127.0,98.5 130.6,99.4"/><polyline class="prov" points="98.8,55.7 102.4,60.3 107.9,63.0 110.6,60.3 109.7,65.7 115.1,68.5 120.6,72.1 125.1,70.3 127.9,68.5"/><polyline class="prov" points="127.9,68.5 131.5,66.6 135.1,69.4 136.0,74.8 134.2,80.3 130.6,83.9 127.9,80.3 127.0,73.9 127.9,68.5"/><polyline class="prov" points="130.6,83.9 135.1,85.7 139.7,84.8 137.9,90.3 134.2,94.8 130.6,99.4"/><polyline class="prov" points="136.0,74.8 140.6,75.7 144.2,72.1 148.8,68.5 151.5,65.7"/><polyline class="prov" points="151.5,65.7 156.0,63.9 161.5,62.1 164.2,60.3 167.9,56.6"/><polyline class="prov" points="151.5,65.7 152.4,73.0 150.6,80.3 151.5,87.5 153.3,93.0"/><polyline class="prov" points="164.2,60.3 163.3,66.6 166.0,72.1 164.2,78.5 166.0,84.8 163.3,88.5 157.9,91.2 153.3,93.0"/><polyline class="prov" points="153.3,93.0 152.4,96.6 148.8,99.4 146.0,102.1"/><polyline class="prov" points="130.6,99.4 136.0,100.3 140.6,103.0 146.0,102.1"/><polyline class="prov" points="167.9,56.6 171.5,54.8 175.1,51.2 180.6,52.1 184.2,48.5 189.7,47.5 193.5,51.0 197.5,49.0 199.7,46.5"/><polyline class="prov" points="189.7,47.5 190.5,55.0 188.0,62.5"/><polyline class="prov" points="174.5,59.0 178.5,57.5 181.5,60.0 180.5,64.0 182.5,68.0 179.0,69.0 176.5,65.0 173.5,63.0 174.5,59.0"/><polyline class="prov" points="166.0,84.8 171.5,83.9 175.1,80.3 178.8,76.6 182.4,73.9"/><polyline class="prov" points="171.5,83.9 174.2,87.5 178.8,89.4 182.4,87.5 186.0,85.7 189.0,84.2"/><polyline class="prov" points="178.8,89.4 177.0,93.9 179.7,98.5 177.9,103.0 175.1,105.7"/><polyline class="prov" points="146.0,102.1 151.5,101.2 157.0,103.0 163.3,102.1 169.7,104.8 175.1,105.7"/><polyline class="prov" points="182.4,87.5 184.2,93.0 187.9,96.6 186.0,102.1 189.2,104.0"/><polyline class="prov" points="191.2,8.6 195.1,11.7 199.7,14.0 203.6,13.2 207.5,14.8 208.2,18.6 205.9,22.5 202.8,25.6 198.2,27.9 195.1,31.8"/><polyline class="prov" points="195.1,31.8 197.4,35.6 195.1,39.5 196.6,43.4 199.7,46.5"/><polyline class="prov" points="197.4,35.6 202.8,34.9 207.5,37.2 211.3,41.8 216.0,44.9 220.6,46.5 225.2,49.5 227.8,48.0"/><polyline class="prov" points="199.7,46.5 204.4,48.0 208.2,51.1 211.3,54.2 214.4,57.5"/><polyline class="prov" points="102.0,91.3 103.8,98.5 102.9,105.8 104.7,111.3 104.1,116.5"/><polyline class="prov" points="104.7,111.3 109.2,113.1 113.8,111.3 116.5,114.9 120.1,115.8 123.8,114.0 127.4,115.8"/><polyline class="prov" points="127.4,115.8 130.1,111.3 132.9,107.6 137.4,105.8 140.1,102.2 139.2,97.6 142.0,94.9 144.7,93.1"/><polyline class="prov" points="140.1,102.2 144.7,104.0 148.3,107.6 146.5,111.3 142.9,110.4 140.1,113.1 136.5,110.0 132.9,107.6"/><polyline class="prov" points="127.4,115.8 126.5,120.4 129.2,124.0 127.4,127.6 131.0,130.4 135.6,129.5 133.7,134.0 131.5,137.0"/><polyline class="prov" points="146.5,111.3 149.2,115.8 147.4,120.4 149.2,124.9 145.6,127.6"/><polyline class="prov" points="131.0,130.4 135.6,126.7 140.1,127.6 145.6,127.6"/><polyline class="prov" points="145.6,127.6 150.1,126.7 154.7,129.5 159.2,127.6 162.0,126.7"/><polyline class="prov" points="154.7,129.5 155.6,134.0 152.9,138.5 154.7,143.5"/><polyline class="prov" points="162.0,126.7 162.9,121.3 161.0,115.8 162.9,111.3 161.0,107.6"/><polyline class="prov" points="148.3,107.6 152.9,106.7 157.4,108.5 161.0,107.6"/><polyline class="prov" points="161.0,107.6 165.6,105.8 170.1,106.7 173.8,104.9 175.1,105.7"/><polyline class="prov" points="162.0,126.7 166.5,125.8 170.1,127.6 173.8,124.9"/><polyline class="prov" points="173.8,124.9 176.5,119.5 179.2,114.0 182.0,110.4 180.1,106.7"/><polyline class="prov" points="173.8,124.9 176.5,128.5 178.3,132.5"/><polyline class="prov" points="182.0,110.4 185.6,113.1 189.0,115.5"/><polyline class="prov" points="173.8,104.9 177.4,106.7 180.1,106.7"/><polyline class="prov" points="180.1,106.7 182.9,103.1 186.5,102.2 189.2,104.0 193.0,103.0"/><polygon class="out" points="10.4,67.4 11.7,64.7 15.1,62.4 17.9,62.9 22.0,59.9 26.1,58.8 30.8,56.5 34.9,53.8 36.3,49.7 34.9,46.3 34.2,43.6 38.3,42.2 42.4,40.8 45.8,36.1 48.6,34.0 53.3,34.3 55.4,30.6 58.1,28.3 60.2,25.8 62.9,25.5 64.9,27.7 68.3,29.9 73.8,31.3 75.1,36.7 75.1,40.8 78.5,42.9 87.4,43.6 90.8,46.3 94.2,49.0 97.7,52.4 105.2,53.1 113.3,52.8 118.8,54.2 122.9,56.5 128.3,57.6 132.4,55.6 136.0,54.5 142.9,53.8 148.3,51.7 153.1,48.3 153.8,44.2 158.6,43.3 164.7,40.8 171.5,39.5 175.6,36.7 181.1,36.1 184.5,34.0 181.1,31.3 175.6,30.6 170.2,31.0 168.8,28.2 172.0,24.0 178.2,22.0 182.7,20.2 185.0,14.0 187.4,9.4 191.2,7.0 197.4,6.3 203.6,7.0 208.2,10.1 211.3,14.0 213.6,20.2 219.1,22.5 223.7,25.6 226.8,30.2 233.0,31.8 239.1,28.7 243.0,28.7 240.7,33.3 237.6,38.7 234.5,42.6 229.9,44.9 228.0,50.0 225.2,52.6 220.6,54.2 217.5,58.0 214.4,58.8 211.3,56.8 207.9,59.5 203.2,63.3 198.6,66.4 196.3,68.7 193.2,67.2 194.0,64.1 192.4,61.8 187.8,63.3 183.9,66.4 180.0,68.0 177.7,71.0 180.0,74.1 184.7,74.1 186.2,75.7 190.1,74.9 194.7,76.5 192.4,78.8 188.5,80.3 184.7,84.2 184.7,88.8 187.8,93.5 190.9,98.3 193.2,102.1 195.5,105.2 194.0,109.9 192.5,113.7 190.1,118.4 187.8,122.2 184.7,126.1 181.6,129.2 177.8,133.0 173.1,136.9 168.5,140.0 162.3,142.3 156.1,143.9 149.5,145.3 146.4,146.9 147.2,150.0 144.9,148.4 144.1,145.3 141.0,143.8 137.1,143.0 134.1,139.1 131.0,136.8 127.1,137.6 124.0,139.9 119.4,140.7 116.3,142.2 114.7,146.1 111.6,144.5 108.5,143.0 107.0,139.1 104.7,135.3 100.8,133.7 100.8,130.6 103.9,127.5 104.7,122.9 103.9,118.3 101.6,115.2 98.5,114.4 94.6,116.0 90.8,116.7 86.1,119.0 81.9,120.5 80.3,118.2 75.7,116.6 70.3,115.9 68.0,119.4 65.6,117.0 61.0,117.4 55.6,115.9 51.0,113.6 47.1,111.2 43.2,108.9 39.4,106.6 34.7,104.3 30.1,101.2 28.5,97.3 30.1,92.7 28.5,88.0 24.7,84.2 20.8,80.3 17.7,76.5 17.0,71.8 13.1,70.3 10.0,68.5"/><ellipse class="out" style="stroke-width:1" cx="146.9" cy="154.7" rx="4.5" ry="3.8" transform="rotate(-30 146.9 154.7)"/><polygon points="192.5,127.9 193.2,130.0 192.1,135.0 190.4,139.5 188.8,142.2 187.7,141.3 186.5,137.8 186.5,134.5 187.9,131.5 190.5,128.8" fill="none" stroke="#000" stroke-width="1.25" stroke-linejoin="round"/><polyline points="187.8,93.5 190.9,98.3 193.2,102.1 195.5,105.2 194.0,109.9 192.5,113.7 190.1,118.4 187.8,122.2 184.7,126.1 181.6,129.2 177.8,133.0 173.1,136.9 168.5,140.0 162.3,142.3 156.1,143.9 149.5,145.3 146.4,146.9" fill="none" stroke="#0a0a0a" stroke-width="1.9" stroke-linejoin="round" stroke-linecap="round"/><polyline class="isl" points="195.2,131.9 195.6,136.0"/><polyline class="isl" points="190.6,142.9 193.1,144.0 190.4,147.1"/><polyline class="isl" points="198.3,125.7 198.8,126.4"/><polyline class="isl" points="193.5,127.0 193.9,127.6"/><polyline class="isl" points="170.1,146.8 170.7,147.4"/><polyline class="isl" points="173.3,147.8 174.0,148.4"/><polyline class="isl" points="185.8,155.8 184.3,161.4"/><polyline class="isl" points="183.0,169.1 182.1,172.5"/><polyline class="isl" points="153.7,164.5 154.9,165.3"/><polyline class="isl" points="155.7,166.8 157.0,166.2"/><polyline class="isl" points="154.5,167.6 155.1,168.4"/><polyline class="isl" points="162.5,169.0 164.1,168.2"/><polyline class="isl" points="165.1,169.6 167.0,169.0"/><polyline class="isl" points="144.8,169.1 145.9,172.5"/><polyline class="isl" points="176.5,170.0 177.5,171.0"/><polyline class="isl" points="132.5,165.0 132.0,167.5"/></g></g><rect x="203.8" y="122.7" width="46.2" height="50.3" fill="#fff" stroke="#222" stroke-width="1"/><polyline points="204.3,123.8 206.0,126.5 207.7,128.0 209.8,129.0 211.8,129.3 214.3,128.6 216.7,128.4 218.8,127.6 220.8,127.3 223.3,127.1 225.6,126.6 228.1,126.0 230.5,125.2 232.7,124.0 234.6,123.3 238.1,122.9" fill="none" stroke="#151515" stroke-width="0.8"/><polyline points="239.9,125.0 240.9,126.4 241.4,128.6" fill="none" stroke="#151515" stroke-width="0.8"/><polyline points="238.1,134.2 237.1,136.2" fill="none" stroke="#151515" stroke-width="0.8"/><polyline points="235.3,150.7 233.9,152.8" fill="none" stroke="#151515" stroke-width="0.8"/><polyline points="215.3,140.4 216.0,142.4" fill="none" stroke="#151515" stroke-width="0.8"/><polyline points="216.0,150.0 216.4,152.1" fill="none" stroke="#151515" stroke-width="0.8"/><polyline points="211.2,161.8 211.8,163.8" fill="none" stroke="#151515" stroke-width="0.8"/><polyline points="220.1,168.0 221.5,169.3" fill="none" stroke="#151515" stroke-width="0.8"/><polyline points="222.2,163.8 221.1,166.4" fill="none" stroke="#151515" stroke-width="0.8"/><polyline points="218.8,139.4 221.3,140.6" fill="none" stroke="#151515" stroke-width="0.8"/><polyline points="219.5,141.0 221.0,139.2" fill="none" stroke="#151515" stroke-width="0.8"/><polyline points="224.3,141.0 226.8,140.5" fill="none" stroke="#151515" stroke-width="0.8"/><polyline points="232.5,142.4 233.9,143.8" fill="none" stroke="#151515" stroke-width="0.8"/><polyline points="221.9,133.6 222.7,132.6" fill="none" stroke="#151515" stroke-width="0.8"/><polyline points="215.3,160.1 218.1,159.0" fill="none" stroke="#151515" stroke-width="0.8"/><polyline points="220.1,157.6 222.2,156.5" fill="none" stroke="#151515" stroke-width="0.8"/><polyline points="224.3,159.0 225.6,159.7 227.0,159.0" fill="none" stroke="#151515" stroke-width="0.8"/><polyline points="228.4,156.9 229.8,155.6" fill="none" stroke="#151515" stroke-width="0.8"/><polyline points="231.2,154.2 233.2,152.8" fill="none" stroke="#151515" stroke-width="0.8"/><polyline points="225.6,152.1 226.3,154.2" fill="none" stroke="#151515" stroke-width="0.8"/><polyline points="223.6,160.4 223.0,161.6" fill="none" stroke="#151515" stroke-width="0.8"/><polyline points="225.1,156.6 226.9,157.4" fill="none" stroke="#151515" stroke-width="0.8"/><polyline points="226.5,155.2 227.7,154.2" fill="none" stroke="#151515" stroke-width="0.8"/><ellipse cx="214.6" cy="132.8" rx="2.5" ry="1.8" fill="#fff" stroke="#111" stroke-width="0.8" transform="rotate(-30 214.6 132.8)"/><rect x="229.2" y="128.2" width="1.2" height="0.9" fill="#222"/><rect x="235.5" y="123.1" width="1.2" height="0.9" fill="#222"/><rect x="242.4" y="125.0" width="1.2" height="0.9" fill="#222"/><rect x="230.7" y="136.8" width="1.2" height="0.9" fill="#222"/><rect x="217.4" y="145.1" width="1.2" height="0.9" fill="#222"/><rect x="210.9" y="156.6" width="1.2" height="0.9" fill="#222"/><rect x="227.4" y="161.1" width="1.2" height="0.9" fill="#222"/><rect x="217.9" y="169.6" width="1.2" height="0.9" fill="#222"/><text class="n" x="237.9" y="7.6" text-anchor="middle">N</text><polygon points="237.7,10.9 233.9,23.4 237.4,20.1" fill="#111" stroke="#111" stroke-width="0.5"/><polygon points="237.7,10.9 241.2,22.9 237.4,20.1" fill="#fff" stroke="#999" stroke-width="0.4"/><rect class="frame" x="0" y="-0.3" width="250" height="172.7"/><line x1="-3" x2="0" y1="151.1" y2="151.1" stroke="#333" stroke-width="1"/><text class="ax" x="-4.4" y="155.8" text-anchor="end">20°N</text><line x1="-3" x2="0" y1="107.9" y2="107.9" stroke="#333" stroke-width="1"/><text class="ax" x="-4.4" y="112.6" text-anchor="end">30°N</text><line x1="-3" x2="0" y1="64.7" y2="64.7" stroke="#333" stroke-width="1"/><text class="ax" x="-4.4" y="69.4" text-anchor="end">40°N</text><line x1="-3" x2="0" y1="21.5" y2="21.5" stroke="#333" stroke-width="1"/><text class="ax" x="-4.4" y="26.2" text-anchor="end">50°N</text><line y1="173" y2="176" x1="72.0" x2="72.0" stroke="#333" stroke-width="1"/><text class="ax" y="187.3" x="72.0" text-anchor="middle">90°E</text><line y1="173" y2="176" x1="185.7" x2="185.7" stroke="#333" stroke-width="1"/><text class="ax" y="187.3" x="185.7" text-anchor="middle">120°E</text><text class="pl" x="4.5" y="18.3">(c)</text><text class="ax" x="4.9" y="169.5" textLength="42.6" lengthAdjust="spacingAndGlyphs">SSP370</text></g>
<g transform="translate(291,188)"><g clip-path="url(#pc)"><line class="grid" x1="72.0" x2="72.0" y1="0" y2="173"/><line class="grid" x1="185.7" x2="185.7" y1="0" y2="173"/><line class="grid" x1="0" x2="250" y1="151.1" y2="151.1"/><line class="grid" x1="0" x2="250" y1="107.9" y2="107.9"/><line class="grid" x1="0" x2="250" y1="64.7" y2="64.7"/><line class="grid" x1="0" x2="250" y1="21.5" y2="21.5"/><g clip-path="url(#cn)" shape-rendering="crispEdges"><rect x="188.06" y="5.54" width="23.99" height="4.37" fill="#80ffb4"/><rect x="188.06" y="9.61" width="23.99" height="4.37" fill="#80ffb4"/><rect x="183.32" y="13.68" width="28.72" height="4.37" fill="#80ffb4"/><rect x="183.32" y="17.75" width="5.04" height="4.37" fill="#4df3ce"/><rect x="188.06" y="17.75" width="23.99" height="4.37" fill="#80ffb4"/><rect x="173.85" y="21.82" width="28.72" height="4.37" fill="#4df3ce"/><rect x="202.27" y="21.82" width="19.25" height="4.37" fill="#80ffb4"/><rect x="60.15" y="25.90" width="5.04" height="4.37" fill="#4856fb"/><rect x="169.11" y="25.90" width="14.51" height="4.37" fill="#18cde4"/><rect x="183.32" y="25.90" width="14.51" height="4.37" fill="#4df3ce"/><rect x="197.54" y="25.90" width="5.04" height="4.37" fill="#66fcc2"/><rect x="202.27" y="25.90" width="23.99" height="4.37" fill="#80ffb4"/><rect x="55.41" y="29.97" width="9.78" height="4.37" fill="#2884f6"/><rect x="64.89" y="29.97" width="9.78" height="4.37" fill="#4856fb"/><rect x="183.32" y="29.97" width="9.78" height="4.37" fill="#4df3ce"/><rect x="192.80" y="29.97" width="5.04" height="4.37" fill="#32e3da"/><rect x="197.54" y="29.97" width="5.04" height="4.37" fill="#66fcc2"/><rect x="202.27" y="29.97" width="38.20" height="4.37" fill="#80ffb4"/><rect x="45.94" y="34.04" width="9.78" height="4.37" fill="#2884f6"/><rect x="55.41" y="34.04" width="19.25" height="4.37" fill="#4856fb"/><rect x="183.32" y="34.04" width="5.04" height="4.37" fill="#2884f6"/><rect x="188.06" y="34.04" width="5.04" height="4.37" fill="#18cde4"/><rect x="192.80" y="34.04" width="9.78" height="4.37" fill="#00b5eb"/><rect x="202.27" y="34.04" width="5.04" height="4.37" fill="#66fcc2"/><rect x="207.01" y="34.04" width="33.46" height="4.37" fill="#80ffb4"/><rect x="41.20" y="38.11" width="14.51" height="4.37" fill="#2884f6"/><rect x="55.41" y="38.11" width="19.25" height="4.37" fill="#4856fb"/><rect x="169.11" y="38.11" width="9.78" height="4.37" fill="#18cde4"/><rect x="178.59" y="38.11" width="5.04" height="4.37" fill="#2884f6"/><rect x="183.32" y="38.11" width="19.25" height="4.37" fill="#18cde4"/><rect x="202.27" y="38.11" width="14.51" height="4.37" fill="#99fca6"/><rect x="216.49" y="38.11" width="19.25" height="4.37" fill="#80ffb4"/><rect x="36.46" y="42.18" width="5.04" height="4.37" fill="#4856fb"/><rect x="41.20" y="42.18" width="14.51" height="4.37" fill="#2884f6"/><rect x="55.41" y="42.18" width="23.99" height="4.37" fill="#4856fb"/><rect x="79.10" y="42.18" width="9.78" height="4.37" fill="#583efd"/><rect x="154.90" y="42.18" width="14.51" height="4.37" fill="#2884f6"/><rect x="169.11" y="42.18" width="14.51" height="4.37" fill="#396bf9"/><rect x="183.32" y="42.18" width="9.78" height="4.37" fill="#18cde4"/><rect x="192.80" y="42.18" width="23.99" height="4.37" fill="#99fca6"/><rect x="216.49" y="42.18" width="14.51" height="4.37" fill="#80ffb4"/><rect x="36.46" y="46.25" width="19.25" height="4.37" fill="#2884f6"/><rect x="55.41" y="46.25" width="38.20" height="4.37" fill="#583efd"/><rect x="154.90" y="46.25" width="14.51" height="4.37" fill="#2884f6"/><rect x="169.11" y="46.25" width="9.78" height="4.37" fill="#396bf9"/><rect x="178.59" y="46.25" width="5.04" height="4.37" fill="#149df1"/><rect x="183.32" y="46.25" width="9.78" height="4.37" fill="#18cde4"/><rect x="192.80" y="46.25" width="9.78" height="4.37" fill="#ffb360"/><rect x="202.27" y="46.25" width="9.78" height="4.37" fill="#bced8f"/><rect x="211.75" y="46.25" width="19.25" height="4.37" fill="#80ffb4"/><rect x="36.46" y="50.32" width="14.51" height="4.37" fill="#396bf9"/><rect x="50.67" y="50.32" width="38.20" height="4.37" fill="#583efd"/><rect x="88.57" y="50.32" width="9.78" height="4.37" fill="#4856fb"/><rect x="145.43" y="50.32" width="33.46" height="4.37" fill="#2884f6"/><rect x="178.59" y="50.32" width="5.04" height="4.37" fill="#149df1"/><rect x="183.32" y="50.32" width="19.25" height="4.37" fill="#ffb360"/><rect x="202.27" y="50.32" width="14.51" height="4.37" fill="#bced8f"/><rect x="216.49" y="50.32" width="9.78" height="4.37" fill="#80ffb4"/><rect x="31.72" y="54.39" width="9.78" height="4.37" fill="#396bf9"/><rect x="41.20" y="54.39" width="57.15" height="4.37" fill="#583efd"/><rect x="98.05" y="54.39" width="23.99" height="4.37" fill="#396bf9"/><rect x="131.21" y="54.39" width="23.99" height="4.37" fill="#396bf9"/><rect x="154.90" y="54.39" width="9.78" height="4.37" fill="#00b5eb"/><rect x="164.38" y="54.39" width="14.51" height="4.37" fill="#ff9d53"/><rect x="178.59" y="54.39" width="5.04" height="4.37" fill="#ffb360"/><rect x="183.32" y="54.39" width="14.51" height="4.37" fill="#ff9d53"/><rect x="197.54" y="54.39" width="9.78" height="4.37" fill="#99fca6"/><rect x="207.01" y="54.39" width="9.78" height="4.37" fill="#ffb360"/><rect x="22.25" y="58.46" width="5.04" height="4.37" fill="#4856fb"/><rect x="26.99" y="58.46" width="14.51" height="4.37" fill="#396bf9"/><rect x="41.20" y="58.46" width="38.20" height="4.37" fill="#583efd"/><rect x="79.10" y="58.46" width="76.10" height="4.37" fill="#2884f6"/><rect x="154.90" y="58.46" width="9.78" height="4.37" fill="#00b5eb"/><rect x="164.38" y="58.46" width="42.94" height="4.37" fill="#ff9d53"/><rect x="12.77" y="62.53" width="5.04" height="4.37" fill="#4856fb"/><rect x="17.51" y="62.53" width="19.25" height="4.37" fill="#2884f6"/><rect x="36.46" y="62.53" width="42.94" height="4.37" fill="#583efd"/><rect x="79.10" y="62.53" width="38.20" height="4.37" fill="#2884f6"/><rect x="117.00" y="62.53" width="38.20" height="4.37" fill="#149df1"/><rect x="154.90" y="62.53" width="5.04" height="4.37" fill="#00b5eb"/><rect x="159.64" y="62.53" width="19.25" height="4.37" fill="#ff9d53"/><rect x="178.59" y="62.53" width="5.04" height="4.37" fill="#00b5eb"/><rect x="183.32" y="62.53" width="5.04" height="4.37" fill="#ff9d53"/><rect x="192.80" y="62.53" width="9.78" height="4.37" fill="#ff9d53"/><rect x="8.04" y="66.61" width="5.04" height="4.37" fill="#4856fb"/><rect x="12.77" y="66.61" width="19.25" height="4.37" fill="#2884f6"/><rect x="31.72" y="66.61" width="47.67" height="4.37" fill="#583efd"/><rect x="79.10" y="66.61" width="19.25" height="4.37" fill="#2884f6"/><rect x="98.05" y="66.61" width="14.51" height="4.37" fill="#396bf9"/><rect x="112.26" y="66.61" width="42.94" height="4.37" fill="#149df1"/><rect x="154.90" y="66.61" width="9.78" height="4.37" fill="#ff9d53"/><rect x="164.38" y="66.61" width="14.51" height="4.37" fill="#ffb360"/><rect x="17.51" y="70.68" width="19.25" height="4.37" fill="#4856fb"/><rect x="36.46" y="70.68" width="42.94" height="4.37" fill="#583efd"/><rect x="79.10" y="70.68" width="19.25" height="4.37" fill="#2884f6"/><rect x="98.05" y="70.68" width="14.51" height="4.37" fill="#396bf9"/><rect x="112.26" y="70.68" width="38.20" height="4.37" fill="#149df1"/><rect x="150.16" y="70.68" width="5.04" height="4.37" fill="#ffb360"/><rect x="154.90" y="70.68" width="9.78" height="4.37" fill="#ff9d53"/><rect x="164.38" y="70.68" width="14.51" height="4.37" fill="#ffb360"/><rect x="17.51" y="74.75" width="28.72" height="4.37" fill="#4856fb"/><rect x="45.94" y="74.75" width="5.04" height="4.37" fill="#396bf9"/><rect x="50.67" y="74.75" width="28.72" height="4.37" fill="#4856fb"/><rect x="79.10" y="74.75" width="19.25" height="4.37" fill="#149df1"/><rect x="98.05" y="74.75" width="14.51" height="4.37" fill="#396bf9"/><rect x="112.26" y="74.75" width="9.78" height="4.37" fill="#18cde4"/><rect x="121.74" y="74.75" width="14.51" height="4.37" fill="#149df1"/><rect x="135.95" y="74.75" width="5.04" height="4.37" fill="#80ffb4"/><rect x="140.69" y="74.75" width="23.99" height="4.37" fill="#ff9d53"/><rect x="164.38" y="74.75" width="5.04" height="4.37" fill="#ffb360"/><rect x="169.11" y="74.75" width="19.25" height="4.37" fill="#ff9d53"/><rect x="188.06" y="74.75" width="5.04" height="4.37" fill="#00b5eb"/><rect x="22.25" y="78.82" width="5.04" height="4.37" fill="#4856fb"/><rect x="26.99" y="78.82" width="5.04" height="4.37" fill="#66fcc2"/><rect x="31.72" y="78.82" width="42.94" height="4.37" fill="#4856fb"/><rect x="74.36" y="78.82" width="5.04" height="4.37" fill="#18cde4"/><rect x="79.10" y="78.82" width="19.25" height="4.37" fill="#149df1"/><rect x="98.05" y="78.82" width="14.51" height="4.37" fill="#396bf9"/><rect x="112.26" y="78.82" width="9.78" height="4.37" fill="#18cde4"/><rect x="121.74" y="78.82" width="19.25" height="4.37" fill="#ff8444"/><rect x="140.69" y="78.82" width="14.51" height="4.37" fill="#ff9d53"/><rect x="154.90" y="78.82" width="9.78" height="4.37" fill="#ff8444"/><rect x="164.38" y="78.82" width="5.04" height="4.37" fill="#ffb360"/><rect x="169.11" y="78.82" width="19.25" height="4.37" fill="#ff9d53"/><rect x="26.99" y="82.89" width="5.04" height="4.37" fill="#396bf9"/><rect x="31.72" y="82.89" width="5.04" height="4.37" fill="#18cde4"/><rect x="36.46" y="82.89" width="38.20" height="4.37" fill="#396bf9"/><rect x="74.36" y="82.89" width="5.04" height="4.37" fill="#18cde4"/><rect x="79.10" y="82.89" width="5.04" height="4.37" fill="#4df3ce"/><rect x="83.84" y="82.89" width="5.04" height="4.37" fill="#00b5eb"/><rect x="88.57" y="82.89" width="23.99" height="4.37" fill="#66fcc2"/><rect x="112.26" y="82.89" width="5.04" height="4.37" fill="#18cde4"/><rect x="117.00" y="82.89" width="5.04" height="4.37" fill="#99fca6"/><rect x="121.74" y="82.89" width="14.51" height="4.37" fill="#ff8444"/><rect x="135.95" y="82.89" width="19.25" height="4.37" fill="#ff9d53"/><rect x="154.90" y="82.89" width="5.04" height="4.37" fill="#ff8444"/><rect x="159.64" y="82.89" width="9.78" height="4.37" fill="#ffb360"/><rect x="169.11" y="82.89" width="14.51" height="4.37" fill="#ff9d53"/><rect x="26.99" y="86.96" width="47.67" height="4.37" fill="#396bf9"/><rect x="74.36" y="86.96" width="5.04" height="4.37" fill="#18cde4"/><rect x="79.10" y="86.96" width="5.04" height="4.37" fill="#4df3ce"/><rect x="83.84" y="86.96" width="5.04" height="4.37" fill="#149df1"/><rect x="88.57" y="86.96" width="14.51" height="4.37" fill="#66fcc2"/><rect x="102.79" y="86.96" width="9.78" height="4.37" fill="#e6cd73"/><rect x="112.26" y="86.96" width="9.78" height="4.37" fill="#99fca6"/><rect x="121.74" y="86.96" width="9.78" height="4.37" fill="#ff8444"/><rect x="131.21" y="86.96" width="23.99" height="4.37" fill="#ffb360"/><rect x="154.90" y="86.96" width="5.04" height="4.37" fill="#d0e082"/><rect x="159.64" y="86.96" width="23.99" height="4.37" fill="#ff9d53"/><rect x="31.72" y="91.03" width="42.94" height="4.37" fill="#396bf9"/><rect x="74.36" y="91.03" width="9.78" height="4.37" fill="#00b5eb"/><rect x="83.84" y="91.03" width="9.78" height="4.37" fill="#18cde4"/><rect x="93.31" y="91.03" width="14.51" height="4.37" fill="#66fcc2"/><rect x="107.52" y="91.03" width="9.78" height="4.37" fill="#e6cd73"/><rect x="117.00" y="91.03" width="9.78" height="4.37" fill="#99fca6"/><rect x="126.47" y="91.03" width="28.72" height="4.37" fill="#ffb360"/><rect x="154.90" y="91.03" width="33.46" height="4.37" fill="#ff8444"/><rect x="26.99" y="95.10" width="52.41" height="4.37" fill="#396bf9"/><rect x="79.10" y="95.10" width="5.04" height="4.37" fill="#149df1"/><rect x="83.84" y="95.10" width="5.04" height="4.37" fill="#18cde4"/><rect x="88.57" y="95.10" width="5.04" height="4.37" fill="#4df3ce"/><rect x="93.31" y="95.10" width="23.99" height="4.37" fill="#80ffb4"/><rect x="117.00" y="95.10" width="9.78" height="4.37" fill="#bced8f"/><rect x="126.47" y="95.10" width="9.78" height="4.37" fill="#d0e082"/><rect x="135.95" y="95.10" width="19.25" height="4.37" fill="#ffb360"/><rect x="154.90" y="95.10" width="33.46" height="4.37" fill="#ff8444"/><rect x="31.72" y="99.17" width="9.78" height="4.37" fill="#18cde4"/><rect x="41.20" y="99.17" width="5.04" height="4.37" fill="#00b5eb"/><rect x="45.94" y="99.17" width="33.46" height="4.37" fill="#396bf9"/><rect x="79.10" y="99.17" width="5.04" height="4.37" fill="#00b5eb"/><rect x="83.84" y="99.17" width="9.78" height="4.37" fill="#66fcc2"/><rect x="93.31" y="99.17" width="23.99" height="4.37" fill="#80ffb4"/><rect x="117.00" y="99.17" width="9.78" height="4.37" fill="#d0e082"/><rect x="126.47" y="99.17" width="14.51" height="4.37" fill="#ff6b37"/><rect x="140.69" y="99.17" width="14.51" height="4.37" fill="#ffb360"/><rect x="154.90" y="99.17" width="14.51" height="4.37" fill="#ff9d53"/><rect x="169.11" y="99.17" width="23.99" height="4.37" fill="#ff8444"/><rect x="36.46" y="103.24" width="5.04" height="4.37" fill="#396bf9"/><rect x="41.20" y="103.24" width="9.78" height="4.37" fill="#18cde4"/><rect x="50.67" y="103.24" width="5.04" height="4.37" fill="#00b5eb"/><rect x="55.41" y="103.24" width="23.99" height="4.37" fill="#2884f6"/><rect x="79.10" y="103.24" width="5.04" height="4.37" fill="#4df3ce"/><rect x="83.84" y="103.24" width="33.46" height="4.37" fill="#80ffb4"/><rect x="117.00" y="103.24" width="5.04" height="4.37" fill="#ff8444"/><rect x="121.74" y="103.24" width="5.04" height="4.37" fill="#d0e082"/><rect x="126.47" y="103.24" width="14.51" height="4.37" fill="#ff4422"/><rect x="140.69" y="103.24" width="28.72" height="4.37" fill="#ff9d53"/><rect x="169.11" y="103.24" width="28.72" height="4.37" fill="#ff8444"/><rect x="45.94" y="107.32" width="9.78" height="4.37" fill="#18cde4"/><rect x="55.41" y="107.32" width="5.04" height="4.37" fill="#80ffb4"/><rect x="60.15" y="107.32" width="19.25" height="4.37" fill="#18cde4"/><rect x="79.10" y="107.32" width="5.04" height="4.37" fill="#66fcc2"/><rect x="83.84" y="107.32" width="5.04" height="4.37" fill="#80ffb4"/><rect x="88.57" y="107.32" width="9.78" height="4.37" fill="#ff6b37"/><rect x="98.05" y="107.32" width="5.04" height="4.37" fill="#ffb360"/><rect x="102.79" y="107.32" width="14.51" height="4.37" fill="#80ffb4"/><rect x="117.00" y="107.32" width="9.78" height="4.37" fill="#99fca6"/><rect x="126.47" y="107.32" width="9.78" height="4.37" fill="#ff8444"/><rect x="135.95" y="107.32" width="9.78" height="4.37" fill="#ff4422"/><rect x="145.43" y="107.32" width="5.04" height="4.37" fill="#ff2211"/><rect x="150.16" y="107.32" width="5.04" height="4.37" fill="#ff6b37"/><rect x="154.90" y="107.32" width="38.20" height="4.37" fill="#ff8444"/><rect x="50.67" y="111.39" width="5.04" height="4.37" fill="#396bf9"/><rect x="55.41" y="111.39" width="23.99" height="4.37" fill="#66fcc2"/><rect x="79.10" y="111.39" width="5.04" height="4.37" fill="#80ffb4"/><rect x="83.84" y="111.39" width="9.78" height="4.37" fill="#ff8444"/><rect x="93.31" y="111.39" width="9.78" height="4.37" fill="#ff9d53"/><rect x="102.79" y="111.39" width="14.51" height="4.37" fill="#ffb360"/><rect x="117.00" y="111.39" width="5.04" height="4.37" fill="#99fca6"/><rect x="121.74" y="111.39" width="5.04" height="4.37" fill="#ff9d53"/><rect x="126.47" y="111.39" width="9.78" height="4.37" fill="#ff8444"/><rect x="135.95" y="111.39" width="9.78" height="4.37" fill="#ff4422"/><rect x="145.43" y="111.39" width="5.04" height="4.37" fill="#ff2211"/><rect x="150.16" y="111.39" width="5.04" height="4.37" fill="#ff6b37"/><rect x="154.90" y="111.39" width="38.20" height="4.37" fill="#ff8444"/><rect x="64.89" y="115.46" width="5.04" height="4.37" fill="#396bf9"/><rect x="79.10" y="115.46" width="9.78" height="4.37" fill="#e6cd73"/><rect x="102.79" y="115.46" width="14.51" height="4.37" fill="#ffb360"/><rect x="117.00" y="115.46" width="9.78" height="4.37" fill="#ff9d53"/><rect x="126.47" y="115.46" width="9.78" height="4.37" fill="#ff8444"/><rect x="135.95" y="115.46" width="9.78" height="4.37" fill="#ff4422"/><rect x="145.43" y="115.46" width="9.78" height="4.37" fill="#ff6b37"/><rect x="154.90" y="115.46" width="38.20" height="4.37" fill="#ff8444"/><rect x="102.79" y="119.53" width="23.99" height="4.37" fill="#ff9d53"/><rect x="126.47" y="119.53" width="5.04" height="4.37" fill="#e6cd73"/><rect x="131.21" y="119.53" width="5.04" height="4.37" fill="#ff8444"/><rect x="135.95" y="119.53" width="9.78" height="4.37" fill="#ff4422"/><rect x="145.43" y="119.53" width="9.78" height="4.37" fill="#ff6b37"/><rect x="154.90" y="119.53" width="23.99" height="4.37" fill="#ff8444"/><rect x="178.59" y="119.53" width="5.04" height="4.37" fill="#bced8f"/><rect x="183.32" y="119.53" width="5.04" height="4.37" fill="#ff8444"/><rect x="102.79" y="123.60" width="23.99" height="4.37" fill="#ffb360"/><rect x="126.47" y="123.60" width="5.04" height="4.37" fill="#e6cd73"/><rect x="131.21" y="123.60" width="5.04" height="4.37" fill="#ff8444"/><rect x="135.95" y="123.60" width="19.25" height="4.37" fill="#ff6b37"/><rect x="154.90" y="123.60" width="23.99" height="4.37" fill="#ff8444"/><rect x="178.59" y="123.60" width="5.04" height="4.37" fill="#bced8f"/><rect x="102.79" y="127.67" width="28.72" height="4.37" fill="#ffb360"/><rect x="131.21" y="127.67" width="42.94" height="4.37" fill="#ff8444"/><rect x="173.85" y="127.67" width="5.04" height="4.37" fill="#bced8f"/><rect x="178.59" y="127.67" width="5.04" height="4.37" fill="#ff8444"/><rect x="102.79" y="131.74" width="28.72" height="4.37" fill="#ffb360"/><rect x="131.21" y="131.74" width="23.99" height="4.37" fill="#ff9d53"/><rect x="154.90" y="131.74" width="19.25" height="4.37" fill="#ff8444"/><rect x="173.85" y="131.74" width="5.04" height="4.37" fill="#ff9d53"/><rect x="107.52" y="135.81" width="9.78" height="4.37" fill="#ffb360"/><rect x="117.00" y="135.81" width="9.78" height="4.37" fill="#ff9d53"/><rect x="131.21" y="135.81" width="9.78" height="4.37" fill="#ffb360"/><rect x="140.69" y="135.81" width="33.46" height="4.37" fill="#ff9d53"/><rect x="107.52" y="139.88" width="9.78" height="4.37" fill="#ffb360"/><rect x="135.95" y="139.88" width="28.72" height="4.37" fill="#ff9d53"/><rect x="112.26" y="143.95" width="5.04" height="4.37" fill="#ff9d53"/><rect x="145.43" y="143.95" width="5.04" height="4.37" fill="#ff9d53"/><rect x="135.95" y="148.03" width="28.72" height="4.37" fill="#ff9d53"/><rect x="135.95" y="152.10" width="28.72" height="4.37" fill="#ff9d53"/><rect x="135.95" y="156.17" width="28.72" height="4.37" fill="#ff9d53"/><rect x="135.95" y="160.24" width="28.72" height="4.37" fill="#ff9d53"/></g><g><polyline class="prov" points="31.5,85.7 36.0,84.8 42.4,85.7 47.0,83.0 54.2,81.2 61.5,80.3 67.9,81.2 71.5,82.1"/><polyline class="prov" points="71.5,82.1 73.3,76.6 72.4,72.1 75.1,69.4 81.5,68.5 85.1,66.6"/><polyline class="prov" points="85.1,66.6 83.3,63.0 87.0,59.4 92.4,56.6 96.1,53.5"/><polyline class="prov" points="71.5,82.1 70.6,87.5 72.4,93.0 76.0,95.7 81.5,96.6 87.0,94.8 92.4,96.6 96.0,99.4 102.0,97.5"/><polyline class="prov" points="85.1,66.6 90.6,68.5 97.0,71.2 102.4,69.4 107.9,72.1 113.3,73.9 117.9,78.5 120.6,83.0 118.8,87.5 115.1,91.2 113.3,93.9"/><polyline class="prov" points="113.3,93.9 107.9,94.8 102.4,93.0 102.0,97.5"/><polyline class="prov" points="113.3,93.9 118.8,93.0 122.4,95.7 127.0,98.5 130.6,99.4"/><polyline class="prov" points="98.8,55.7 102.4,60.3 107.9,63.0 110.6,60.3 109.7,65.7 115.1,68.5 120.6,72.1 125.1,70.3 127.9,68.5"/><polyline class="prov" points="127.9,68.5 131.5,66.6 135.1,69.4 136.0,74.8 134.2,80.3 130.6,83.9 127.9,80.3 127.0,73.9 127.9,68.5"/><polyline class="prov" points="130.6,83.9 135.1,85.7 139.7,84.8 137.9,90.3 134.2,94.8 130.6,99.4"/><polyline class="prov" points="136.0,74.8 140.6,75.7 144.2,72.1 148.8,68.5 151.5,65.7"/><polyline class="prov" points="151.5,65.7 156.0,63.9 161.5,62.1 164.2,60.3 167.9,56.6"/><polyline class="prov" points="151.5,65.7 152.4,73.0 150.6,80.3 151.5,87.5 153.3,93.0"/><polyline class="prov" points="164.2,60.3 163.3,66.6 166.0,72.1 164.2,78.5 166.0,84.8 163.3,88.5 157.9,91.2 153.3,93.0"/><polyline class="prov" points="153.3,93.0 152.4,96.6 148.8,99.4 146.0,102.1"/><polyline class="prov" points="130.6,99.4 136.0,100.3 140.6,103.0 146.0,102.1"/><polyline class="prov" points="167.9,56.6 171.5,54.8 175.1,51.2 180.6,52.1 184.2,48.5 189.7,47.5 193.5,51.0 197.5,49.0 199.7,46.5"/><polyline class="prov" points="189.7,47.5 190.5,55.0 188.0,62.5"/><polyline class="prov" points="174.5,59.0 178.5,57.5 181.5,60.0 180.5,64.0 182.5,68.0 179.0,69.0 176.5,65.0 173.5,63.0 174.5,59.0"/><polyline class="prov" points="166.0,84.8 171.5,83.9 175.1,80.3 178.8,76.6 182.4,73.9"/><polyline class="prov" points="171.5,83.9 174.2,87.5 178.8,89.4 182.4,87.5 186.0,85.7 189.0,84.2"/><polyline class="prov" points="178.8,89.4 177.0,93.9 179.7,98.5 177.9,103.0 175.1,105.7"/><polyline class="prov" points="146.0,102.1 151.5,101.2 157.0,103.0 163.3,102.1 169.7,104.8 175.1,105.7"/><polyline class="prov" points="182.4,87.5 184.2,93.0 187.9,96.6 186.0,102.1 189.2,104.0"/><polyline class="prov" points="191.2,8.6 195.1,11.7 199.7,14.0 203.6,13.2 207.5,14.8 208.2,18.6 205.9,22.5 202.8,25.6 198.2,27.9 195.1,31.8"/><polyline class="prov" points="195.1,31.8 197.4,35.6 195.1,39.5 196.6,43.4 199.7,46.5"/><polyline class="prov" points="197.4,35.6 202.8,34.9 207.5,37.2 211.3,41.8 216.0,44.9 220.6,46.5 225.2,49.5 227.8,48.0"/><polyline class="prov" points="199.7,46.5 204.4,48.0 208.2,51.1 211.3,54.2 214.4,57.5"/><polyline class="prov" points="102.0,91.3 103.8,98.5 102.9,105.8 104.7,111.3 104.1,116.5"/><polyline class="prov" points="104.7,111.3 109.2,113.1 113.8,111.3 116.5,114.9 120.1,115.8 123.8,114.0 127.4,115.8"/><polyline class="prov" points="127.4,115.8 130.1,111.3 132.9,107.6 137.4,105.8 140.1,102.2 139.2,97.6 142.0,94.9 144.7,93.1"/><polyline class="prov" points="140.1,102.2 144.7,104.0 148.3,107.6 146.5,111.3 142.9,110.4 140.1,113.1 136.5,110.0 132.9,107.6"/><polyline class="prov" points="127.4,115.8 126.5,120.4 129.2,124.0 127.4,127.6 131.0,130.4 135.6,129.5 133.7,134.0 131.5,137.0"/><polyline class="prov" points="146.5,111.3 149.2,115.8 147.4,120.4 149.2,124.9 145.6,127.6"/><polyline class="prov" points="131.0,130.4 135.6,126.7 140.1,127.6 145.6,127.6"/><polyline class="prov" points="145.6,127.6 150.1,126.7 154.7,129.5 159.2,127.6 162.0,126.7"/><polyline class="prov" points="154.7,129.5 155.6,134.0 152.9,138.5 154.7,143.5"/><polyline class="prov" points="162.0,126.7 162.9,121.3 161.0,115.8 162.9,111.3 161.0,107.6"/><polyline class="prov" points="148.3,107.6 152.9,106.7 157.4,108.5 161.0,107.6"/><polyline class="prov" points="161.0,107.6 165.6,105.8 170.1,106.7 173.8,104.9 175.1,105.7"/><polyline class="prov" points="162.0,126.7 166.5,125.8 170.1,127.6 173.8,124.9"/><polyline class="prov" points="173.8,124.9 176.5,119.5 179.2,114.0 182.0,110.4 180.1,106.7"/><polyline class="prov" points="173.8,124.9 176.5,128.5 178.3,132.5"/><polyline class="prov" points="182.0,110.4 185.6,113.1 189.0,115.5"/><polyline class="prov" points="173.8,104.9 177.4,106.7 180.1,106.7"/><polyline class="prov" points="180.1,106.7 182.9,103.1 186.5,102.2 189.2,104.0 193.0,103.0"/><polygon class="out" points="10.4,67.4 11.7,64.7 15.1,62.4 17.9,62.9 22.0,59.9 26.1,58.8 30.8,56.5 34.9,53.8 36.3,49.7 34.9,46.3 34.2,43.6 38.3,42.2 42.4,40.8 45.8,36.1 48.6,34.0 53.3,34.3 55.4,30.6 58.1,28.3 60.2,25.8 62.9,25.5 64.9,27.7 68.3,29.9 73.8,31.3 75.1,36.7 75.1,40.8 78.5,42.9 87.4,43.6 90.8,46.3 94.2,49.0 97.7,52.4 105.2,53.1 113.3,52.8 118.8,54.2 122.9,56.5 128.3,57.6 132.4,55.6 136.0,54.5 142.9,53.8 148.3,51.7 153.1,48.3 153.8,44.2 158.6,43.3 164.7,40.8 171.5,39.5 175.6,36.7 181.1,36.1 184.5,34.0 181.1,31.3 175.6,30.6 170.2,31.0 168.8,28.2 172.0,24.0 178.2,22.0 182.7,20.2 185.0,14.0 187.4,9.4 191.2,7.0 197.4,6.3 203.6,7.0 208.2,10.1 211.3,14.0 213.6,20.2 219.1,22.5 223.7,25.6 226.8,30.2 233.0,31.8 239.1,28.7 243.0,28.7 240.7,33.3 237.6,38.7 234.5,42.6 229.9,44.9 228.0,50.0 225.2,52.6 220.6,54.2 217.5,58.0 214.4,58.8 211.3,56.8 207.9,59.5 203.2,63.3 198.6,66.4 196.3,68.7 193.2,67.2 194.0,64.1 192.4,61.8 187.8,63.3 183.9,66.4 180.0,68.0 177.7,71.0 180.0,74.1 184.7,74.1 186.2,75.7 190.1,74.9 194.7,76.5 192.4,78.8 188.5,80.3 184.7,84.2 184.7,88.8 187.8,93.5 190.9,98.3 193.2,102.1 195.5,105.2 194.0,109.9 192.5,113.7 190.1,118.4 187.8,122.2 184.7,126.1 181.6,129.2 177.8,133.0 173.1,136.9 168.5,140.0 162.3,142.3 156.1,143.9 149.5,145.3 146.4,146.9 147.2,150.0 144.9,148.4 144.1,145.3 141.0,143.8 137.1,143.0 134.1,139.1 131.0,136.8 127.1,137.6 124.0,139.9 119.4,140.7 116.3,142.2 114.7,146.1 111.6,144.5 108.5,143.0 107.0,139.1 104.7,135.3 100.8,133.7 100.8,130.6 103.9,127.5 104.7,122.9 103.9,118.3 101.6,115.2 98.5,114.4 94.6,116.0 90.8,116.7 86.1,119.0 81.9,120.5 80.3,118.2 75.7,116.6 70.3,115.9 68.0,119.4 65.6,117.0 61.0,117.4 55.6,115.9 51.0,113.6 47.1,111.2 43.2,108.9 39.4,106.6 34.7,104.3 30.1,101.2 28.5,97.3 30.1,92.7 28.5,88.0 24.7,84.2 20.8,80.3 17.7,76.5 17.0,71.8 13.1,70.3 10.0,68.5"/><ellipse class="out" style="stroke-width:1" cx="146.9" cy="154.7" rx="4.5" ry="3.8" transform="rotate(-30 146.9 154.7)"/><polygon points="192.5,127.9 193.2,130.0 192.1,135.0 190.4,139.5 188.8,142.2 187.7,141.3 186.5,137.8 186.5,134.5 187.9,131.5 190.5,128.8" fill="none" stroke="#000" stroke-width="1.25" stroke-linejoin="round"/><polyline points="187.8,93.5 190.9,98.3 193.2,102.1 195.5,105.2 194.0,109.9 192.5,113.7 190.1,118.4 187.8,122.2 184.7,126.1 181.6,129.2 177.8,133.0 173.1,136.9 168.5,140.0 162.3,142.3 156.1,143.9 149.5,145.3 146.4,146.9" fill="none" stroke="#0a0a0a" stroke-width="1.9" stroke-linejoin="round" stroke-linecap="round"/><polyline class="isl" points="195.2,131.9 195.6,136.0"/><polyline class="isl" points="190.6,142.9 193.1,144.0 190.4,147.1"/><polyline class="isl" points="198.3,125.7 198.8,126.4"/><polyline class="isl" points="193.5,127.0 193.9,127.6"/><polyline class="isl" points="170.1,146.8 170.7,147.4"/><polyline class="isl" points="173.3,147.8 174.0,148.4"/><polyline class="isl" points="185.8,155.8 184.3,161.4"/><polyline class="isl" points="183.0,169.1 182.1,172.5"/><polyline class="isl" points="153.7,164.5 154.9,165.3"/><polyline class="isl" points="155.7,166.8 157.0,166.2"/><polyline class="isl" points="154.5,167.6 155.1,168.4"/><polyline class="isl" points="162.5,169.0 164.1,168.2"/><polyline class="isl" points="165.1,169.6 167.0,169.0"/><polyline class="isl" points="144.8,169.1 145.9,172.5"/><polyline class="isl" points="176.5,170.0 177.5,171.0"/><polyline class="isl" points="132.5,165.0 132.0,167.5"/></g></g><rect x="203.8" y="122.7" width="46.2" height="50.3" fill="#fff" stroke="#222" stroke-width="1"/><polyline points="204.3,123.8 206.0,126.5 207.7,128.0 209.8,129.0 211.8,129.3 214.3,128.6 216.7,128.4 218.8,127.6 220.8,127.3 223.3,127.1 225.6,126.6 228.1,126.0 230.5,125.2 232.7,124.0 234.6,123.3 238.1,122.9" fill="none" stroke="#151515" stroke-width="0.8"/><polyline points="239.9,125.0 240.9,126.4 241.4,128.6" fill="none" stroke="#151515" stroke-width="0.8"/><polyline points="238.1,134.2 237.1,136.2" fill="none" stroke="#151515" stroke-width="0.8"/><polyline points="235.3,150.7 233.9,152.8" fill="none" stroke="#151515" stroke-width="0.8"/><polyline points="215.3,140.4 216.0,142.4" fill="none" stroke="#151515" stroke-width="0.8"/><polyline points="216.0,150.0 216.4,152.1" fill="none" stroke="#151515" stroke-width="0.8"/><polyline points="211.2,161.8 211.8,163.8" fill="none" stroke="#151515" stroke-width="0.8"/><polyline points="220.1,168.0 221.5,169.3" fill="none" stroke="#151515" stroke-width="0.8"/><polyline points="222.2,163.8 221.1,166.4" fill="none" stroke="#151515" stroke-width="0.8"/><polyline points="218.8,139.4 221.3,140.6" fill="none" stroke="#151515" stroke-width="0.8"/><polyline points="219.5,141.0 221.0,139.2" fill="none" stroke="#151515" stroke-width="0.8"/><polyline points="224.3,141.0 226.8,140.5" fill="none" stroke="#151515" stroke-width="0.8"/><polyline points="232.5,142.4 233.9,143.8" fill="none" stroke="#151515" stroke-width="0.8"/><polyline points="221.9,133.6 222.7,132.6" fill="none" stroke="#151515" stroke-width="0.8"/><polyline points="215.3,160.1 218.1,159.0" fill="none" stroke="#151515" stroke-width="0.8"/><polyline points="220.1,157.6 222.2,156.5" fill="none" stroke="#151515" stroke-width="0.8"/><polyline points="224.3,159.0 225.6,159.7 227.0,159.0" fill="none" stroke="#151515" stroke-width="0.8"/><polyline points="228.4,156.9 229.8,155.6" fill="none" stroke="#151515" stroke-width="0.8"/><polyline points="231.2,154.2 233.2,152.8" fill="none" stroke="#151515" stroke-width="0.8"/><polyline points="225.6,152.1 226.3,154.2" fill="none" stroke="#151515" stroke-width="0.8"/><polyline points="223.6,160.4 223.0,161.6" fill="none" stroke="#151515" stroke-width="0.8"/><polyline points="225.1,156.6 226.9,157.4" fill="none" stroke="#151515" stroke-width="0.8"/><polyline points="226.5,155.2 227.7,154.2" fill="none" stroke="#151515" stroke-width="0.8"/><ellipse cx="214.6" cy="132.8" rx="2.5" ry="1.8" fill="#fff" stroke="#111" stroke-width="0.8" transform="rotate(-30 214.6 132.8)"/><rect x="229.2" y="128.2" width="1.2" height="0.9" fill="#222"/><rect x="235.5" y="123.1" width="1.2" height="0.9" fill="#222"/><rect x="242.4" y="125.0" width="1.2" height="0.9" fill="#222"/><rect x="230.7" y="136.8" width="1.2" height="0.9" fill="#222"/><rect x="217.4" y="145.1" width="1.2" height="0.9" fill="#222"/><rect x="210.9" y="156.6" width="1.2" height="0.9" fill="#222"/><rect x="227.4" y="161.1" width="1.2" height="0.9" fill="#222"/><rect x="217.9" y="169.6" width="1.2" height="0.9" fill="#222"/><text class="n" x="237.9" y="7.6" text-anchor="middle">N</text><polygon points="237.7,10.9 233.9,23.4 237.4,20.1" fill="#111" stroke="#111" stroke-width="0.5"/><polygon points="237.7,10.9 241.2,22.9 237.4,20.1" fill="#fff" stroke="#999" stroke-width="0.4"/><rect class="frame" x="0" y="-0.3" width="250" height="172.7"/><line y1="173" y2="176" x1="72.0" x2="72.0" stroke="#333" stroke-width="1"/><text class="ax" y="187.3" x="72.0" text-anchor="middle">90°E</text><line y1="173" y2="176" x1="185.7" x2="185.7" stroke="#333" stroke-width="1"/><text class="ax" y="187.3" x="185.7" text-anchor="middle">120°E</text><text class="pl" x="4.5" y="18.3">(d)</text><text class="ax" x="2.7" y="169.5" textLength="42.6" lengthAdjust="spacingAndGlyphs">SSP585</text></g>
<rect x="46" y="380.5" width="485" height="19.5" fill="url(#rb)" stroke="#8a8a8a" stroke-width="0.5"/>
<line x1="46.0" x2="46.0" y1="400" y2="402.6" stroke="#555" stroke-width="0.8"/><text class="cb" x="46.0" y="414.7" text-anchor="middle">0.00</text><line x1="106.6" x2="106.6" y1="400" y2="402.6" stroke="#555" stroke-width="0.8"/><text class="cb" x="106.6" y="414.7" text-anchor="middle">0.10</text><line x1="167.2" x2="167.2" y1="400" y2="402.6" stroke="#555" stroke-width="0.8"/><text class="cb" x="167.2" y="414.7" text-anchor="middle">0.20</text><line x1="227.9" x2="227.9" y1="400" y2="402.6" stroke="#555" stroke-width="0.8"/><text class="cb" x="227.9" y="414.7" text-anchor="middle">0.30</text><line x1="288.5" x2="288.5" y1="400" y2="402.6" stroke="#555" stroke-width="0.8"/><text class="cb" x="288.5" y="414.7" text-anchor="middle">0.40</text><line x1="349.1" x2="349.1" y1="400" y2="402.6" stroke="#555" stroke-width="0.8"/><text class="cb" x="349.1" y="414.7" text-anchor="middle">0.50</text><line x1="409.8" x2="409.8" y1="400" y2="402.6" stroke="#555" stroke-width="0.8"/><text class="cb" x="409.8" y="414.7" text-anchor="middle">0.60</text><line x1="470.4" x2="470.4" y1="400" y2="402.6" stroke="#555" stroke-width="0.8"/><text class="cb" x="470.4" y="414.7" text-anchor="middle">0.70</text><line x1="531.0" x2="531.0" y1="400" y2="402.6" stroke="#555" stroke-width="0.8"/><text class="cb" x="531.0" y="414.7" text-anchor="middle">0.80</text>
</svg></body></html>
